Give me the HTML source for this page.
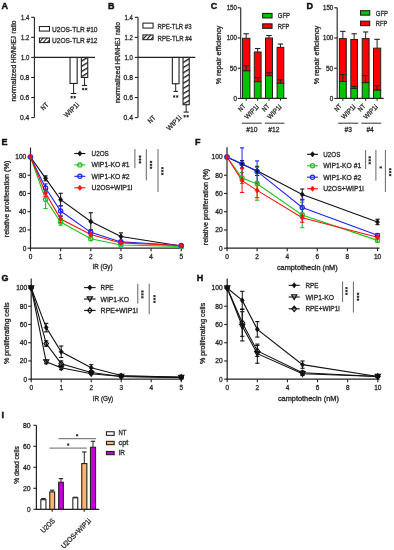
<!DOCTYPE html>
<html><head><meta charset="utf-8"><style>
html,body{margin:0;padding:0;background:#fff;width:394px;height:550px;overflow:hidden}
svg{display:block;font-family:"Liberation Sans", sans-serif;filter:blur(0.3px)}
</style></head><body>
<svg width="394" height="550" viewBox="0 0 394 550">
<rect width="394" height="550" fill="#fff"/>
<defs><pattern id="hatch" patternUnits="userSpaceOnUse" width="10" height="4.46" patternTransform="rotate(-31)"><rect width="10" height="4.46" fill="#fff"/><rect y="0" width="10" height="1.35" fill="#1a1a1a"/></pattern><pattern id="hatchL" patternUnits="userSpaceOnUse" width="10" height="3.0" patternTransform="rotate(-48)"><rect width="10" height="3.0" fill="#fff"/><rect y="0" width="10" height="1.05" fill="#1a1a1a"/></pattern></defs>
<text x="1.40" y="8.70" font-size="9.0" text-anchor="start" font-weight="bold" fill="#111" stroke="#111" stroke-width="0.45">A</text>
<line x1="34.40" y1="17.30" x2="34.40" y2="117.60" stroke="#222" stroke-width="1.1"/>
<line x1="31.20" y1="17.30" x2="34.40" y2="17.30" stroke="#222" stroke-width="1.1"/>
<text x="29.30" y="19.80" font-size="7.0" text-anchor="end" font-weight="normal" fill="#2a2a2a" stroke="#2a2a2a" stroke-width="0.3" textLength="8.3" lengthAdjust="spacingAndGlyphs">1.4</text>
<line x1="31.20" y1="37.36" x2="34.40" y2="37.36" stroke="#222" stroke-width="1.1"/>
<text x="29.30" y="39.86" font-size="7.0" text-anchor="end" font-weight="normal" fill="#2a2a2a" stroke="#2a2a2a" stroke-width="0.3" textLength="8.3" lengthAdjust="spacingAndGlyphs">1.2</text>
<line x1="31.20" y1="57.42" x2="34.40" y2="57.42" stroke="#222" stroke-width="1.1"/>
<text x="29.30" y="59.92" font-size="7.0" text-anchor="end" font-weight="normal" fill="#2a2a2a" stroke="#2a2a2a" stroke-width="0.3" textLength="8.3" lengthAdjust="spacingAndGlyphs">1.0</text>
<line x1="31.20" y1="77.48" x2="34.40" y2="77.48" stroke="#222" stroke-width="1.1"/>
<text x="29.30" y="79.98" font-size="7.0" text-anchor="end" font-weight="normal" fill="#2a2a2a" stroke="#2a2a2a" stroke-width="0.3" textLength="9.4" lengthAdjust="spacingAndGlyphs">0.8</text>
<line x1="31.20" y1="97.54" x2="34.40" y2="97.54" stroke="#222" stroke-width="1.1"/>
<text x="29.30" y="100.04" font-size="7.0" text-anchor="end" font-weight="normal" fill="#2a2a2a" stroke="#2a2a2a" stroke-width="0.3" textLength="9.4" lengthAdjust="spacingAndGlyphs">0.6</text>
<line x1="31.20" y1="117.60" x2="34.40" y2="117.60" stroke="#222" stroke-width="1.1"/>
<text x="29.30" y="120.10" font-size="7.0" text-anchor="end" font-weight="normal" fill="#2a2a2a" stroke="#2a2a2a" stroke-width="0.3" textLength="9.4" lengthAdjust="spacingAndGlyphs">0.4</text>
<text x="16.10" y="101.60" font-size="6.6" text-anchor="start" font-weight="normal" fill="#2a2a2a" stroke="#2a2a2a" stroke-width="0.3" textLength="37.0" lengthAdjust="spacingAndGlyphs" transform="rotate(-90 16.10 101.60)">normalized</text>
<text x="16.10" y="62.90" font-size="6.6" text-anchor="start" font-weight="normal" fill="#2a2a2a" stroke="#2a2a2a" stroke-width="0.3" textLength="26.8" lengthAdjust="spacingAndGlyphs" transform="rotate(-90 16.10 62.90)">HR/NHEJ</text>
<text x="16.10" y="33.40" font-size="6.6" text-anchor="start" font-weight="normal" fill="#2a2a2a" stroke="#2a2a2a" stroke-width="0.3" textLength="12.9" lengthAdjust="spacingAndGlyphs" transform="rotate(-90 16.10 33.40)">ratio</text>
<line x1="34.40" y1="57.42" x2="95.00" y2="57.42" stroke="#222" stroke-width="1.1"/>
<rect x="70.05" y="57.47" width="7.10" height="25.98" fill="#fff" stroke="#222" stroke-width="1.1"/>
<line x1="73.60" y1="83.50" x2="73.60" y2="93.53" stroke="#222" stroke-width="1.0"/>
<line x1="70.90" y1="93.53" x2="76.30" y2="93.53" stroke="#222" stroke-width="1.1"/>
<rect x="81.35" y="57.47" width="6.40" height="19.96" fill="url(#hatch)" stroke="#222" stroke-width="1.1"/>
<line x1="84.55" y1="77.48" x2="84.55" y2="85.50" stroke="#222" stroke-width="1.0"/>
<line x1="81.95" y1="85.50" x2="87.15" y2="85.50" stroke="#222" stroke-width="1.1"/>
<path d="M71.60 95.95 L71.60 98.45 M72.68 96.58 L70.52 97.83 M72.68 97.83 L70.52 96.58 " stroke="#2a2a2a" stroke-width="1.0" fill="none"/>
<path d="M74.60 95.95 L74.60 98.45 M75.68 96.58 L73.52 97.83 M75.68 97.83 L73.52 96.58 " stroke="#2a2a2a" stroke-width="1.0" fill="none"/>
<path d="M83.20 87.85 L83.20 90.35 M84.28 88.47 L82.12 89.72 M84.28 89.72 L82.12 88.47 " stroke="#2a2a2a" stroke-width="1.0" fill="none"/>
<path d="M86.20 87.85 L86.20 90.35 M87.28 88.47 L85.12 89.72 M87.28 89.72 L85.12 88.47 " stroke="#2a2a2a" stroke-width="1.0" fill="none"/>
<rect x="39.42" y="26.52" width="10.05" height="4.55" fill="#fff" stroke="#222" stroke-width="1.05"/>
<text x="52.00" y="31.90" font-size="7.5" text-anchor="start" font-weight="normal" fill="#2a2a2a" stroke="#2a2a2a" stroke-width="0.3" textLength="45.5" lengthAdjust="spacingAndGlyphs">U2OS-TLR #10</text>
<rect x="39.42" y="38.02" width="10.05" height="4.55" fill="url(#hatchL)" stroke="#222" stroke-width="1.05"/>
<text x="52.00" y="43.40" font-size="7.5" text-anchor="start" font-weight="normal" fill="#2a2a2a" stroke="#2a2a2a" stroke-width="0.3" textLength="45.5" lengthAdjust="spacingAndGlyphs">U2OS-TLR #12</text>
<text x="49.00" y="105.30" font-size="7.0" text-anchor="end" font-weight="normal" fill="#2a2a2a" stroke="#2a2a2a" stroke-width="0.3" textLength="7.6" lengthAdjust="spacingAndGlyphs" transform="rotate(-45 49.00 105.30)">NT</text>
<text x="79.60" y="105.30" font-size="7.0" text-anchor="end" font-weight="normal" fill="#2a2a2a" stroke="#2a2a2a" stroke-width="0.3" textLength="18.0" lengthAdjust="spacingAndGlyphs" transform="rotate(-45 79.60 105.30)">WIP1i</text>
<text x="108.00" y="8.70" font-size="9.0" text-anchor="start" font-weight="bold" fill="#111" stroke="#111" stroke-width="0.45">B</text>
<line x1="138.00" y1="17.30" x2="138.00" y2="117.60" stroke="#222" stroke-width="1.1"/>
<line x1="134.80" y1="17.30" x2="138.00" y2="17.30" stroke="#222" stroke-width="1.1"/>
<text x="132.90" y="19.80" font-size="7.0" text-anchor="end" font-weight="normal" fill="#2a2a2a" stroke="#2a2a2a" stroke-width="0.3" textLength="8.3" lengthAdjust="spacingAndGlyphs">1.4</text>
<line x1="134.80" y1="37.36" x2="138.00" y2="37.36" stroke="#222" stroke-width="1.1"/>
<text x="132.90" y="39.86" font-size="7.0" text-anchor="end" font-weight="normal" fill="#2a2a2a" stroke="#2a2a2a" stroke-width="0.3" textLength="8.3" lengthAdjust="spacingAndGlyphs">1.2</text>
<line x1="134.80" y1="57.42" x2="138.00" y2="57.42" stroke="#222" stroke-width="1.1"/>
<text x="132.90" y="59.92" font-size="7.0" text-anchor="end" font-weight="normal" fill="#2a2a2a" stroke="#2a2a2a" stroke-width="0.3" textLength="8.3" lengthAdjust="spacingAndGlyphs">1.0</text>
<line x1="134.80" y1="77.48" x2="138.00" y2="77.48" stroke="#222" stroke-width="1.1"/>
<text x="132.90" y="79.98" font-size="7.0" text-anchor="end" font-weight="normal" fill="#2a2a2a" stroke="#2a2a2a" stroke-width="0.3" textLength="9.4" lengthAdjust="spacingAndGlyphs">0.8</text>
<line x1="134.80" y1="97.54" x2="138.00" y2="97.54" stroke="#222" stroke-width="1.1"/>
<text x="132.90" y="100.04" font-size="7.0" text-anchor="end" font-weight="normal" fill="#2a2a2a" stroke="#2a2a2a" stroke-width="0.3" textLength="9.4" lengthAdjust="spacingAndGlyphs">0.6</text>
<line x1="134.80" y1="117.60" x2="138.00" y2="117.60" stroke="#222" stroke-width="1.1"/>
<text x="132.90" y="120.10" font-size="7.0" text-anchor="end" font-weight="normal" fill="#2a2a2a" stroke="#2a2a2a" stroke-width="0.3" textLength="9.4" lengthAdjust="spacingAndGlyphs">0.4</text>
<text x="119.70" y="103.10" font-size="6.6" text-anchor="start" font-weight="normal" fill="#2a2a2a" stroke="#2a2a2a" stroke-width="0.3" textLength="37.0" lengthAdjust="spacingAndGlyphs" transform="rotate(-90 119.70 103.10)">normalized</text>
<text x="119.70" y="64.40" font-size="6.6" text-anchor="start" font-weight="normal" fill="#2a2a2a" stroke="#2a2a2a" stroke-width="0.3" textLength="26.8" lengthAdjust="spacingAndGlyphs" transform="rotate(-90 119.70 64.40)">HR/NHEJ</text>
<text x="119.70" y="34.90" font-size="6.6" text-anchor="start" font-weight="normal" fill="#2a2a2a" stroke="#2a2a2a" stroke-width="0.3" textLength="12.9" lengthAdjust="spacingAndGlyphs" transform="rotate(-90 119.70 34.90)">ratio</text>
<line x1="138.00" y1="57.42" x2="195.20" y2="57.42" stroke="#222" stroke-width="1.1"/>
<rect x="172.35" y="57.47" width="6.70" height="26.28" fill="#fff" stroke="#222" stroke-width="1.1"/>
<line x1="175.70" y1="83.80" x2="175.70" y2="91.42" stroke="#222" stroke-width="1.0"/>
<line x1="173.50" y1="91.42" x2="177.90" y2="91.42" stroke="#222" stroke-width="1.1"/>
<rect x="183.05" y="57.47" width="6.20" height="47.24" fill="url(#hatch)" stroke="#222" stroke-width="1.1"/>
<line x1="186.15" y1="104.76" x2="186.15" y2="112.08" stroke="#222" stroke-width="1.0"/>
<line x1="183.55" y1="112.08" x2="188.75" y2="112.08" stroke="#222" stroke-width="1.1"/>
<path d="M174.20 95.25 L174.20 97.75 M175.28 95.88 L173.12 97.12 M175.28 97.12 L173.12 95.88 " stroke="#2a2a2a" stroke-width="1.0" fill="none"/>
<path d="M177.20 95.25 L177.20 97.75 M178.28 95.88 L176.12 97.12 M178.28 97.12 L176.12 95.88 " stroke="#2a2a2a" stroke-width="1.0" fill="none"/>
<path d="M184.60 114.95 L184.60 117.45 M185.68 115.58 L183.52 116.83 M185.68 116.83 L183.52 115.58 " stroke="#2a2a2a" stroke-width="1.0" fill="none"/>
<path d="M187.60 114.95 L187.60 117.45 M188.68 115.58 L186.52 116.83 M188.68 116.83 L186.52 115.58 " stroke="#2a2a2a" stroke-width="1.0" fill="none"/>
<rect x="142.93" y="23.12" width="10.15" height="4.95" fill="#fff" stroke="#222" stroke-width="1.05"/>
<text x="157.50" y="28.90" font-size="7.5" text-anchor="start" font-weight="normal" fill="#2a2a2a" stroke="#2a2a2a" stroke-width="0.3" textLength="34.0" lengthAdjust="spacingAndGlyphs">RPE-TLR #3</text>
<rect x="142.93" y="34.92" width="10.15" height="4.75" fill="url(#hatchL)" stroke="#222" stroke-width="1.05"/>
<text x="157.50" y="40.50" font-size="7.5" text-anchor="start" font-weight="normal" fill="#2a2a2a" stroke="#2a2a2a" stroke-width="0.3" textLength="34.5" lengthAdjust="spacingAndGlyphs">RPE-TLR #4</text>
<text x="156.00" y="118.30" font-size="7.0" text-anchor="end" font-weight="normal" fill="#2a2a2a" stroke="#2a2a2a" stroke-width="0.3" textLength="7.6" lengthAdjust="spacingAndGlyphs" transform="rotate(-45 156.00 118.30)">NT</text>
<text x="182.00" y="118.30" font-size="7.0" text-anchor="end" font-weight="normal" fill="#2a2a2a" stroke="#2a2a2a" stroke-width="0.3" textLength="18.0" lengthAdjust="spacingAndGlyphs" transform="rotate(-45 182.00 118.30)">WIP1i</text>
<text x="210.80" y="8.80" font-size="9.0" text-anchor="start" font-weight="bold" fill="#111" stroke="#111" stroke-width="0.45">C</text>
<line x1="240.70" y1="7.80" x2="240.70" y2="98.40" stroke="#333" stroke-width="1.2"/>
<line x1="240.70" y1="98.40" x2="286.80" y2="98.40" stroke="#222" stroke-width="1.2"/>
<line x1="237.70" y1="7.80" x2="240.70" y2="7.80" stroke="#222" stroke-width="1.1"/>
<text x="236.90" y="10.10" font-size="6.5" text-anchor="end" font-weight="normal" fill="#2a2a2a" stroke="#2a2a2a" stroke-width="0.3" textLength="10.2" lengthAdjust="spacingAndGlyphs">150</text>
<line x1="237.70" y1="38.00" x2="240.70" y2="38.00" stroke="#222" stroke-width="1.1"/>
<text x="236.90" y="40.30" font-size="6.5" text-anchor="end" font-weight="normal" fill="#2a2a2a" stroke="#2a2a2a" stroke-width="0.3" textLength="10.2" lengthAdjust="spacingAndGlyphs">100</text>
<line x1="237.70" y1="68.20" x2="240.70" y2="68.20" stroke="#222" stroke-width="1.1"/>
<text x="236.90" y="70.50" font-size="6.5" text-anchor="end" font-weight="normal" fill="#2a2a2a" stroke="#2a2a2a" stroke-width="0.3" textLength="7.2" lengthAdjust="spacingAndGlyphs">50</text>
<line x1="237.70" y1="98.40" x2="240.70" y2="98.40" stroke="#222" stroke-width="1.1"/>
<text x="236.90" y="100.70" font-size="6.5" text-anchor="end" font-weight="normal" fill="#2a2a2a" stroke="#2a2a2a" stroke-width="0.3" textLength="3.5" lengthAdjust="spacingAndGlyphs">0</text>
<text x="221.50" y="54.90" font-size="6.6" text-anchor="middle" font-weight="normal" fill="#2a2a2a" stroke="#2a2a2a" stroke-width="0.3" textLength="58.5" lengthAdjust="spacingAndGlyphs" transform="rotate(-90 221.50 54.90)">% repair efficiency</text>
<rect x="242.50" y="38.30" width="7.40" height="32.62" fill="#ff0000" stroke="#222" stroke-width="1.0"/>
<rect x="242.50" y="70.92" width="7.40" height="27.48" fill="#00c400" stroke="#222" stroke-width="1.0"/>
<line x1="246.20" y1="38.30" x2="246.20" y2="33.77" stroke="#222" stroke-width="1.0"/>
<line x1="243.50" y1="33.77" x2="248.90" y2="33.77" stroke="#222" stroke-width="1.1"/>
<line x1="246.20" y1="70.92" x2="246.20" y2="65.78" stroke="#222" stroke-width="1.0"/>
<line x1="243.50" y1="65.78" x2="248.90" y2="65.78" stroke="#222" stroke-width="1.1"/>
<line x1="246.20" y1="98.40" x2="246.20" y2="100.80" stroke="#222" stroke-width="1.0"/>
<rect x="254.30" y="52.01" width="6.80" height="29.72" fill="#ff0000" stroke="#222" stroke-width="1.0"/>
<rect x="254.30" y="81.73" width="6.80" height="16.67" fill="#00c400" stroke="#222" stroke-width="1.0"/>
<line x1="257.70" y1="52.01" x2="257.70" y2="48.51" stroke="#222" stroke-width="1.0"/>
<line x1="255.00" y1="48.51" x2="260.40" y2="48.51" stroke="#222" stroke-width="1.1"/>
<line x1="257.70" y1="81.73" x2="257.70" y2="77.50" stroke="#222" stroke-width="1.0"/>
<line x1="255.00" y1="77.50" x2="260.40" y2="77.50" stroke="#222" stroke-width="1.1"/>
<line x1="257.70" y1="98.40" x2="257.70" y2="100.80" stroke="#222" stroke-width="1.0"/>
<rect x="265.50" y="38.00" width="7.00" height="37.75" fill="#ff0000" stroke="#222" stroke-width="1.0"/>
<rect x="265.50" y="75.75" width="7.00" height="22.65" fill="#00c400" stroke="#222" stroke-width="1.0"/>
<line x1="269.00" y1="38.00" x2="269.00" y2="35.58" stroke="#222" stroke-width="1.0"/>
<line x1="266.30" y1="35.58" x2="271.70" y2="35.58" stroke="#222" stroke-width="1.1"/>
<line x1="269.00" y1="75.75" x2="269.00" y2="72.73" stroke="#222" stroke-width="1.0"/>
<line x1="266.30" y1="72.73" x2="271.70" y2="72.73" stroke="#222" stroke-width="1.1"/>
<line x1="269.00" y1="98.40" x2="269.00" y2="100.80" stroke="#222" stroke-width="1.0"/>
<rect x="277.10" y="47.36" width="6.70" height="35.88" fill="#ff0000" stroke="#222" stroke-width="1.0"/>
<rect x="277.10" y="83.24" width="6.70" height="15.16" fill="#00c400" stroke="#222" stroke-width="1.0"/>
<line x1="280.45" y1="47.36" x2="280.45" y2="44.04" stroke="#222" stroke-width="1.0"/>
<line x1="277.75" y1="44.04" x2="283.15" y2="44.04" stroke="#222" stroke-width="1.1"/>
<line x1="280.45" y1="83.24" x2="280.45" y2="79.80" stroke="#222" stroke-width="1.0"/>
<line x1="277.75" y1="79.80" x2="283.15" y2="79.80" stroke="#222" stroke-width="1.1"/>
<line x1="280.45" y1="98.40" x2="280.45" y2="100.80" stroke="#222" stroke-width="1.0"/>
<rect x="262.65" y="13.45" width="9.40" height="4.50" fill="#00c400" stroke="#222" stroke-width="1.1"/>
<text x="277.80" y="18.40" font-size="7.2" text-anchor="start" font-weight="normal" fill="#2a2a2a" stroke="#2a2a2a" stroke-width="0.3" textLength="12.2" lengthAdjust="spacingAndGlyphs">GFP</text>
<rect x="262.65" y="23.85" width="9.40" height="4.50" fill="#ff0000" stroke="#222" stroke-width="1.1"/>
<text x="277.80" y="28.80" font-size="7.2" text-anchor="start" font-weight="normal" fill="#2a2a2a" stroke="#2a2a2a" stroke-width="0.3" textLength="11.6" lengthAdjust="spacingAndGlyphs">RFP</text>
<text x="245.90" y="106.70" font-size="6.8" text-anchor="end" font-weight="normal" fill="#2a2a2a" stroke="#2a2a2a" stroke-width="0.3" textLength="7.4" lengthAdjust="spacingAndGlyphs" transform="rotate(-45 245.90 106.70)">NT</text>
<text x="259.20" y="107.50" font-size="6.8" text-anchor="end" font-weight="normal" fill="#2a2a2a" stroke="#2a2a2a" stroke-width="0.3" textLength="17.0" lengthAdjust="spacingAndGlyphs" transform="rotate(-45 259.20 107.50)">WIP1i</text>
<text x="269.80" y="106.70" font-size="6.8" text-anchor="end" font-weight="normal" fill="#2a2a2a" stroke="#2a2a2a" stroke-width="0.3" textLength="7.4" lengthAdjust="spacingAndGlyphs" transform="rotate(-45 269.80 106.70)">NT</text>
<text x="282.00" y="107.50" font-size="6.8" text-anchor="end" font-weight="normal" fill="#2a2a2a" stroke="#2a2a2a" stroke-width="0.3" textLength="17.0" lengthAdjust="spacingAndGlyphs" transform="rotate(-45 282.00 107.50)">WIP1i</text>
<line x1="241.70" y1="123.20" x2="261.70" y2="123.20" stroke="#333" stroke-width="1.0"/>
<text x="251.90" y="131.60" font-size="6.8" text-anchor="middle" font-weight="normal" fill="#2a2a2a" stroke="#2a2a2a" stroke-width="0.3" textLength="11.2" lengthAdjust="spacingAndGlyphs">#10</text>
<line x1="264.90" y1="123.20" x2="284.40" y2="123.20" stroke="#333" stroke-width="1.0"/>
<text x="273.90" y="131.60" font-size="6.8" text-anchor="middle" font-weight="normal" fill="#2a2a2a" stroke="#2a2a2a" stroke-width="0.3" textLength="11.2" lengthAdjust="spacingAndGlyphs">#12</text>
<text x="306.60" y="8.80" font-size="9.0" text-anchor="start" font-weight="bold" fill="#111" stroke="#111" stroke-width="0.45">D</text>
<line x1="337.20" y1="7.80" x2="337.20" y2="98.40" stroke="#333" stroke-width="1.2"/>
<line x1="337.20" y1="98.40" x2="383.70" y2="98.40" stroke="#222" stroke-width="1.2"/>
<line x1="334.20" y1="7.80" x2="337.20" y2="7.80" stroke="#222" stroke-width="1.1"/>
<text x="333.20" y="10.10" font-size="6.5" text-anchor="end" font-weight="normal" fill="#2a2a2a" stroke="#2a2a2a" stroke-width="0.3" textLength="10.2" lengthAdjust="spacingAndGlyphs">150</text>
<line x1="334.20" y1="38.00" x2="337.20" y2="38.00" stroke="#222" stroke-width="1.1"/>
<text x="333.20" y="40.30" font-size="6.5" text-anchor="end" font-weight="normal" fill="#2a2a2a" stroke="#2a2a2a" stroke-width="0.3" textLength="10.2" lengthAdjust="spacingAndGlyphs">100</text>
<line x1="334.20" y1="68.20" x2="337.20" y2="68.20" stroke="#222" stroke-width="1.1"/>
<text x="333.20" y="70.50" font-size="6.5" text-anchor="end" font-weight="normal" fill="#2a2a2a" stroke="#2a2a2a" stroke-width="0.3" textLength="7.2" lengthAdjust="spacingAndGlyphs">50</text>
<line x1="334.20" y1="98.40" x2="337.20" y2="98.40" stroke="#222" stroke-width="1.1"/>
<text x="333.20" y="100.70" font-size="6.5" text-anchor="end" font-weight="normal" fill="#2a2a2a" stroke="#2a2a2a" stroke-width="0.3" textLength="3.5" lengthAdjust="spacingAndGlyphs">0</text>
<text x="318.60" y="54.90" font-size="6.6" text-anchor="middle" font-weight="normal" fill="#2a2a2a" stroke="#2a2a2a" stroke-width="0.3" textLength="58.5" lengthAdjust="spacingAndGlyphs" transform="rotate(-90 318.60 54.90)">% repair efficiency</text>
<rect x="339.40" y="38.60" width="6.90" height="42.94" fill="#ff0000" stroke="#222" stroke-width="1.0"/>
<rect x="339.40" y="81.55" width="6.90" height="16.85" fill="#00c400" stroke="#222" stroke-width="1.0"/>
<line x1="342.85" y1="38.60" x2="342.85" y2="31.36" stroke="#222" stroke-width="1.0"/>
<line x1="340.15" y1="31.36" x2="345.55" y2="31.36" stroke="#222" stroke-width="1.1"/>
<line x1="342.85" y1="81.55" x2="342.85" y2="74.54" stroke="#222" stroke-width="1.0"/>
<line x1="340.15" y1="74.54" x2="345.55" y2="74.54" stroke="#222" stroke-width="1.1"/>
<line x1="342.85" y1="98.40" x2="342.85" y2="100.80" stroke="#222" stroke-width="1.0"/>
<rect x="350.80" y="39.51" width="6.70" height="49.04" fill="#ff0000" stroke="#222" stroke-width="1.0"/>
<rect x="350.80" y="88.55" width="6.70" height="9.85" fill="#00c400" stroke="#222" stroke-width="1.0"/>
<line x1="354.15" y1="39.51" x2="354.15" y2="33.77" stroke="#222" stroke-width="1.0"/>
<line x1="351.45" y1="33.77" x2="356.85" y2="33.77" stroke="#222" stroke-width="1.1"/>
<line x1="354.15" y1="88.55" x2="354.15" y2="86.44" stroke="#222" stroke-width="1.0"/>
<line x1="351.45" y1="86.44" x2="356.85" y2="86.44" stroke="#222" stroke-width="1.1"/>
<line x1="354.15" y1="98.40" x2="354.15" y2="100.80" stroke="#222" stroke-width="1.0"/>
<rect x="362.20" y="38.60" width="6.90" height="44.15" fill="#ff0000" stroke="#222" stroke-width="1.0"/>
<rect x="362.20" y="82.76" width="6.90" height="15.64" fill="#00c400" stroke="#222" stroke-width="1.0"/>
<line x1="365.65" y1="38.60" x2="365.65" y2="31.96" stroke="#222" stroke-width="1.0"/>
<line x1="362.95" y1="31.96" x2="368.35" y2="31.96" stroke="#222" stroke-width="1.1"/>
<line x1="365.65" y1="82.76" x2="365.65" y2="75.57" stroke="#222" stroke-width="1.0"/>
<line x1="362.95" y1="75.57" x2="368.35" y2="75.57" stroke="#222" stroke-width="1.1"/>
<line x1="365.65" y1="98.40" x2="365.65" y2="100.80" stroke="#222" stroke-width="1.0"/>
<rect x="373.50" y="48.15" width="7.20" height="42.04" fill="#ff0000" stroke="#222" stroke-width="1.0"/>
<rect x="373.50" y="90.19" width="7.20" height="8.21" fill="#00c400" stroke="#222" stroke-width="1.0"/>
<line x1="377.10" y1="48.15" x2="377.10" y2="39.33" stroke="#222" stroke-width="1.0"/>
<line x1="374.40" y1="39.33" x2="379.80" y2="39.33" stroke="#222" stroke-width="1.1"/>
<line x1="377.10" y1="90.19" x2="377.10" y2="85.66" stroke="#222" stroke-width="1.0"/>
<line x1="374.40" y1="85.66" x2="379.80" y2="85.66" stroke="#222" stroke-width="1.1"/>
<line x1="377.10" y1="98.40" x2="377.10" y2="100.80" stroke="#222" stroke-width="1.0"/>
<rect x="360.55" y="10.65" width="9.20" height="4.50" fill="#00c400" stroke="#222" stroke-width="1.1"/>
<text x="375.80" y="15.60" font-size="7.2" text-anchor="start" font-weight="normal" fill="#2a2a2a" stroke="#2a2a2a" stroke-width="0.3" textLength="12.2" lengthAdjust="spacingAndGlyphs">GFP</text>
<rect x="360.55" y="21.15" width="9.20" height="4.50" fill="#ff0000" stroke="#222" stroke-width="1.1"/>
<text x="375.80" y="26.10" font-size="7.2" text-anchor="start" font-weight="normal" fill="#2a2a2a" stroke="#2a2a2a" stroke-width="0.3" textLength="11.6" lengthAdjust="spacingAndGlyphs">RFP</text>
<text x="342.20" y="106.70" font-size="6.8" text-anchor="end" font-weight="normal" fill="#2a2a2a" stroke="#2a2a2a" stroke-width="0.3" textLength="7.4" lengthAdjust="spacingAndGlyphs" transform="rotate(-45 342.20 106.70)">NT</text>
<text x="356.00" y="107.50" font-size="6.8" text-anchor="end" font-weight="normal" fill="#2a2a2a" stroke="#2a2a2a" stroke-width="0.3" textLength="17.0" lengthAdjust="spacingAndGlyphs" transform="rotate(-45 356.00 107.50)">WIP1i</text>
<text x="365.80" y="106.70" font-size="6.8" text-anchor="end" font-weight="normal" fill="#2a2a2a" stroke="#2a2a2a" stroke-width="0.3" textLength="7.4" lengthAdjust="spacingAndGlyphs" transform="rotate(-45 365.80 106.70)">NT</text>
<text x="378.30" y="107.50" font-size="6.8" text-anchor="end" font-weight="normal" fill="#2a2a2a" stroke="#2a2a2a" stroke-width="0.3" textLength="17.0" lengthAdjust="spacingAndGlyphs" transform="rotate(-45 378.30 107.50)">WIP1i</text>
<line x1="338.20" y1="123.20" x2="358.20" y2="123.20" stroke="#333" stroke-width="1.0"/>
<text x="348.30" y="131.60" font-size="6.8" text-anchor="middle" font-weight="normal" fill="#2a2a2a" stroke="#2a2a2a" stroke-width="0.3" textLength="7.4" lengthAdjust="spacingAndGlyphs">#3</text>
<line x1="361.40" y1="123.20" x2="381.20" y2="123.20" stroke="#333" stroke-width="1.0"/>
<text x="370.10" y="131.60" font-size="6.8" text-anchor="middle" font-weight="normal" fill="#2a2a2a" stroke="#2a2a2a" stroke-width="0.3" textLength="7.4" lengthAdjust="spacingAndGlyphs">#4</text>
<text x="1.50" y="144.50" font-size="9.0" text-anchor="start" font-weight="bold" fill="#111" stroke="#111" stroke-width="0.45">E</text>
<line x1="30.50" y1="147.50" x2="30.50" y2="248.80" stroke="#222" stroke-width="1.2"/>
<line x1="29.90" y1="248.20" x2="183.50" y2="248.20" stroke="#222" stroke-width="1.2"/>
<line x1="27.50" y1="248.20" x2="30.50" y2="248.20" stroke="#222" stroke-width="1.1"/>
<text x="26.30" y="250.50" font-size="6.5" text-anchor="end" font-weight="normal" fill="#2a2a2a" stroke="#2a2a2a" stroke-width="0.3" textLength="3.6" lengthAdjust="spacingAndGlyphs">0</text>
<line x1="27.50" y1="229.96" x2="30.50" y2="229.96" stroke="#222" stroke-width="1.1"/>
<text x="26.30" y="232.26" font-size="6.5" text-anchor="end" font-weight="normal" fill="#2a2a2a" stroke="#2a2a2a" stroke-width="0.3" textLength="7.4" lengthAdjust="spacingAndGlyphs">20</text>
<line x1="27.50" y1="211.72" x2="30.50" y2="211.72" stroke="#222" stroke-width="1.1"/>
<text x="26.30" y="214.02" font-size="6.5" text-anchor="end" font-weight="normal" fill="#2a2a2a" stroke="#2a2a2a" stroke-width="0.3" textLength="7.4" lengthAdjust="spacingAndGlyphs">40</text>
<line x1="27.50" y1="193.48" x2="30.50" y2="193.48" stroke="#222" stroke-width="1.1"/>
<text x="26.30" y="195.78" font-size="6.5" text-anchor="end" font-weight="normal" fill="#2a2a2a" stroke="#2a2a2a" stroke-width="0.3" textLength="7.4" lengthAdjust="spacingAndGlyphs">60</text>
<line x1="27.50" y1="175.24" x2="30.50" y2="175.24" stroke="#222" stroke-width="1.1"/>
<text x="26.30" y="177.54" font-size="6.5" text-anchor="end" font-weight="normal" fill="#2a2a2a" stroke="#2a2a2a" stroke-width="0.3" textLength="7.4" lengthAdjust="spacingAndGlyphs">80</text>
<line x1="27.50" y1="157.00" x2="30.50" y2="157.00" stroke="#222" stroke-width="1.1"/>
<text x="26.30" y="159.30" font-size="6.5" text-anchor="end" font-weight="normal" fill="#2a2a2a" stroke="#2a2a2a" stroke-width="0.3" textLength="11.0" lengthAdjust="spacingAndGlyphs">100</text>
<line x1="30.50" y1="248.20" x2="30.50" y2="251.20" stroke="#222" stroke-width="1.1"/>
<text x="30.50" y="258.70" font-size="6.5" text-anchor="middle" font-weight="normal" fill="#2a2a2a" stroke="#2a2a2a" stroke-width="0.3" textLength="3.6" lengthAdjust="spacingAndGlyphs">0</text>
<line x1="60.64" y1="248.20" x2="60.64" y2="251.20" stroke="#222" stroke-width="1.1"/>
<text x="60.64" y="258.70" font-size="6.5" text-anchor="middle" font-weight="normal" fill="#2a2a2a" stroke="#2a2a2a" stroke-width="0.3" textLength="3.6" lengthAdjust="spacingAndGlyphs">1</text>
<line x1="90.78" y1="248.20" x2="90.78" y2="251.20" stroke="#222" stroke-width="1.1"/>
<text x="90.78" y="258.70" font-size="6.5" text-anchor="middle" font-weight="normal" fill="#2a2a2a" stroke="#2a2a2a" stroke-width="0.3" textLength="3.6" lengthAdjust="spacingAndGlyphs">2</text>
<line x1="120.92" y1="248.20" x2="120.92" y2="251.20" stroke="#222" stroke-width="1.1"/>
<text x="120.92" y="258.70" font-size="6.5" text-anchor="middle" font-weight="normal" fill="#2a2a2a" stroke="#2a2a2a" stroke-width="0.3" textLength="3.6" lengthAdjust="spacingAndGlyphs">3</text>
<line x1="151.06" y1="248.20" x2="151.06" y2="251.20" stroke="#222" stroke-width="1.1"/>
<text x="151.06" y="258.70" font-size="6.5" text-anchor="middle" font-weight="normal" fill="#2a2a2a" stroke="#2a2a2a" stroke-width="0.3" textLength="3.6" lengthAdjust="spacingAndGlyphs">4</text>
<line x1="181.20" y1="248.20" x2="181.20" y2="251.20" stroke="#222" stroke-width="1.1"/>
<text x="181.20" y="258.70" font-size="6.5" text-anchor="middle" font-weight="normal" fill="#2a2a2a" stroke="#2a2a2a" stroke-width="0.3" textLength="3.6" lengthAdjust="spacingAndGlyphs">5</text>
<text x="9.20" y="198.90" font-size="6.6" text-anchor="middle" font-weight="normal" fill="#2a2a2a" stroke="#2a2a2a" stroke-width="0.3" textLength="76.5" lengthAdjust="spacingAndGlyphs" transform="rotate(-90 9.20 198.90)">relative proliferation (%)</text>
<text x="102.50" y="268.80" font-size="6.6" text-anchor="middle" font-weight="normal" fill="#2a2a2a" stroke="#2a2a2a" stroke-width="0.3" textLength="20.0" lengthAdjust="spacingAndGlyphs">IR (Gy)</text>
<path d="M30.50 157.00 L45.57 178.34 L60.64 199.68 L90.78 221.57 L120.92 236.53 L181.20 245.92" fill="none" stroke="#111" stroke-width="1.1"/>
<path d="M30.50 157.00 L45.57 199.41 L60.64 222.03 L90.78 238.81 L120.92 245.01 L181.20 246.38" fill="none" stroke="#1ec31e" stroke-width="1.1"/>
<path d="M30.50 157.00 L45.57 188.01 L60.64 210.99 L90.78 232.33 L120.92 241.91 L181.20 245.46" fill="none" stroke="#2020ff" stroke-width="1.1"/>
<path d="M30.50 157.00 L45.57 192.93 L60.64 219.02 L90.78 234.43 L120.92 242.91 L181.20 245.46" fill="none" stroke="#ff1010" stroke-width="1.1"/>
<line x1="45.57" y1="180.80" x2="45.57" y2="175.88" stroke="#111" stroke-width="1.0"/>
<line x1="43.47" y1="175.88" x2="47.67" y2="175.88" stroke="#111" stroke-width="1.1"/>
<line x1="43.47" y1="180.80" x2="47.67" y2="180.80" stroke="#111" stroke-width="1.1"/>
<line x1="60.64" y1="206.07" x2="60.64" y2="193.30" stroke="#111" stroke-width="1.0"/>
<line x1="58.54" y1="193.30" x2="62.74" y2="193.30" stroke="#111" stroke-width="1.1"/>
<line x1="58.54" y1="206.07" x2="62.74" y2="206.07" stroke="#111" stroke-width="1.1"/>
<line x1="90.78" y1="230.42" x2="90.78" y2="212.72" stroke="#111" stroke-width="1.0"/>
<line x1="88.68" y1="212.72" x2="92.88" y2="212.72" stroke="#111" stroke-width="1.1"/>
<line x1="88.68" y1="230.42" x2="92.88" y2="230.42" stroke="#111" stroke-width="1.1"/>
<line x1="120.92" y1="240.17" x2="120.92" y2="232.88" stroke="#111" stroke-width="1.0"/>
<line x1="118.82" y1="232.88" x2="123.02" y2="232.88" stroke="#111" stroke-width="1.1"/>
<line x1="118.82" y1="240.17" x2="123.02" y2="240.17" stroke="#111" stroke-width="1.1"/>
<line x1="181.20" y1="246.83" x2="181.20" y2="245.01" stroke="#111" stroke-width="1.0"/>
<line x1="179.10" y1="245.01" x2="183.30" y2="245.01" stroke="#111" stroke-width="1.1"/>
<line x1="179.10" y1="246.83" x2="183.30" y2="246.83" stroke="#111" stroke-width="1.1"/>
<line x1="45.57" y1="208.53" x2="45.57" y2="190.29" stroke="#1ec31e" stroke-width="1.0"/>
<line x1="43.47" y1="190.29" x2="47.67" y2="190.29" stroke="#1ec31e" stroke-width="1.1"/>
<line x1="43.47" y1="208.53" x2="47.67" y2="208.53" stroke="#1ec31e" stroke-width="1.1"/>
<line x1="60.64" y1="225.22" x2="60.64" y2="218.83" stroke="#1ec31e" stroke-width="1.0"/>
<line x1="58.54" y1="218.83" x2="62.74" y2="218.83" stroke="#1ec31e" stroke-width="1.1"/>
<line x1="58.54" y1="225.22" x2="62.74" y2="225.22" stroke="#1ec31e" stroke-width="1.1"/>
<line x1="90.78" y1="240.63" x2="90.78" y2="236.98" stroke="#1ec31e" stroke-width="1.0"/>
<line x1="88.68" y1="236.98" x2="92.88" y2="236.98" stroke="#1ec31e" stroke-width="1.1"/>
<line x1="88.68" y1="240.63" x2="92.88" y2="240.63" stroke="#1ec31e" stroke-width="1.1"/>
<line x1="120.92" y1="245.92" x2="120.92" y2="244.10" stroke="#1ec31e" stroke-width="1.0"/>
<line x1="118.82" y1="244.10" x2="123.02" y2="244.10" stroke="#1ec31e" stroke-width="1.1"/>
<line x1="118.82" y1="245.92" x2="123.02" y2="245.92" stroke="#1ec31e" stroke-width="1.1"/>
<line x1="181.20" y1="247.29" x2="181.20" y2="245.46" stroke="#1ec31e" stroke-width="1.0"/>
<line x1="179.10" y1="245.46" x2="183.30" y2="245.46" stroke="#1ec31e" stroke-width="1.1"/>
<line x1="179.10" y1="247.29" x2="183.30" y2="247.29" stroke="#1ec31e" stroke-width="1.1"/>
<line x1="45.57" y1="192.11" x2="45.57" y2="183.90" stroke="#2020ff" stroke-width="1.0"/>
<line x1="43.47" y1="183.90" x2="47.67" y2="183.90" stroke="#2020ff" stroke-width="1.1"/>
<line x1="43.47" y1="192.11" x2="47.67" y2="192.11" stroke="#2020ff" stroke-width="1.1"/>
<line x1="60.64" y1="216.46" x2="60.64" y2="205.52" stroke="#2020ff" stroke-width="1.0"/>
<line x1="58.54" y1="205.52" x2="62.74" y2="205.52" stroke="#2020ff" stroke-width="1.1"/>
<line x1="58.54" y1="216.46" x2="62.74" y2="216.46" stroke="#2020ff" stroke-width="1.1"/>
<line x1="90.78" y1="235.07" x2="90.78" y2="229.60" stroke="#2020ff" stroke-width="1.0"/>
<line x1="88.68" y1="229.60" x2="92.88" y2="229.60" stroke="#2020ff" stroke-width="1.1"/>
<line x1="88.68" y1="235.07" x2="92.88" y2="235.07" stroke="#2020ff" stroke-width="1.1"/>
<line x1="120.92" y1="242.82" x2="120.92" y2="241.00" stroke="#2020ff" stroke-width="1.0"/>
<line x1="118.82" y1="241.00" x2="123.02" y2="241.00" stroke="#2020ff" stroke-width="1.1"/>
<line x1="118.82" y1="242.82" x2="123.02" y2="242.82" stroke="#2020ff" stroke-width="1.1"/>
<line x1="181.20" y1="246.38" x2="181.20" y2="244.55" stroke="#2020ff" stroke-width="1.0"/>
<line x1="179.10" y1="244.55" x2="183.30" y2="244.55" stroke="#2020ff" stroke-width="1.1"/>
<line x1="179.10" y1="246.38" x2="183.30" y2="246.38" stroke="#2020ff" stroke-width="1.1"/>
<line x1="45.57" y1="196.58" x2="45.57" y2="189.28" stroke="#ff1010" stroke-width="1.0"/>
<line x1="43.47" y1="189.28" x2="47.67" y2="189.28" stroke="#ff1010" stroke-width="1.1"/>
<line x1="43.47" y1="196.58" x2="47.67" y2="196.58" stroke="#ff1010" stroke-width="1.1"/>
<line x1="60.64" y1="222.66" x2="60.64" y2="215.37" stroke="#ff1010" stroke-width="1.0"/>
<line x1="58.54" y1="215.37" x2="62.74" y2="215.37" stroke="#ff1010" stroke-width="1.1"/>
<line x1="58.54" y1="222.66" x2="62.74" y2="222.66" stroke="#ff1010" stroke-width="1.1"/>
<line x1="90.78" y1="236.25" x2="90.78" y2="232.60" stroke="#ff1010" stroke-width="1.0"/>
<line x1="88.68" y1="232.60" x2="92.88" y2="232.60" stroke="#ff1010" stroke-width="1.1"/>
<line x1="88.68" y1="236.25" x2="92.88" y2="236.25" stroke="#ff1010" stroke-width="1.1"/>
<line x1="120.92" y1="243.82" x2="120.92" y2="242.00" stroke="#ff1010" stroke-width="1.0"/>
<line x1="118.82" y1="242.00" x2="123.02" y2="242.00" stroke="#ff1010" stroke-width="1.1"/>
<line x1="118.82" y1="243.82" x2="123.02" y2="243.82" stroke="#ff1010" stroke-width="1.1"/>
<line x1="181.20" y1="246.38" x2="181.20" y2="244.55" stroke="#ff1010" stroke-width="1.0"/>
<line x1="179.10" y1="244.55" x2="183.30" y2="244.55" stroke="#ff1010" stroke-width="1.1"/>
<line x1="179.10" y1="246.38" x2="183.30" y2="246.38" stroke="#ff1010" stroke-width="1.1"/>
<path d="M30.50 154.40 L32.50 157.00 L30.50 159.60 L28.50 157.00 Z" fill="#111" stroke="#111" stroke-width="0.7"/>
<path d="M45.57 175.74 L47.57 178.34 L45.57 180.94 L43.57 178.34 Z" fill="#111" stroke="#111" stroke-width="0.7"/>
<path d="M60.64 197.08 L62.64 199.68 L60.64 202.28 L58.64 199.68 Z" fill="#111" stroke="#111" stroke-width="0.7"/>
<path d="M90.78 218.97 L92.78 221.57 L90.78 224.17 L88.78 221.57 Z" fill="#111" stroke="#111" stroke-width="0.7"/>
<path d="M120.92 233.93 L122.92 236.53 L120.92 239.13 L118.92 236.53 Z" fill="#111" stroke="#111" stroke-width="0.7"/>
<path d="M181.20 243.32 L183.20 245.92 L181.20 248.52 L179.20 245.92 Z" fill="#111" stroke="#111" stroke-width="0.7"/>
<circle cx="30.50" cy="157.00" r="2.10" fill="none" stroke="#1ec31e" stroke-width="1.2"/>
<circle cx="45.57" cy="199.41" r="2.10" fill="none" stroke="#1ec31e" stroke-width="1.2"/>
<circle cx="60.64" cy="222.03" r="2.10" fill="none" stroke="#1ec31e" stroke-width="1.2"/>
<circle cx="90.78" cy="238.81" r="2.10" fill="none" stroke="#1ec31e" stroke-width="1.2"/>
<circle cx="120.92" cy="245.01" r="2.10" fill="none" stroke="#1ec31e" stroke-width="1.2"/>
<circle cx="181.20" cy="246.38" r="2.10" fill="none" stroke="#1ec31e" stroke-width="1.2"/>
<circle cx="30.50" cy="157.00" r="2.10" fill="none" stroke="#2020ff" stroke-width="1.2"/>
<circle cx="45.57" cy="188.01" r="2.10" fill="none" stroke="#2020ff" stroke-width="1.2"/>
<circle cx="60.64" cy="210.99" r="2.10" fill="none" stroke="#2020ff" stroke-width="1.2"/>
<circle cx="90.78" cy="232.33" r="2.10" fill="none" stroke="#2020ff" stroke-width="1.2"/>
<circle cx="120.92" cy="241.91" r="2.10" fill="none" stroke="#2020ff" stroke-width="1.2"/>
<circle cx="181.20" cy="245.46" r="2.10" fill="none" stroke="#2020ff" stroke-width="1.2"/>
<path d="M30.50 154.40 L32.50 157.00 L30.50 159.60 L28.50 157.00 Z" fill="#ff1010" stroke="#ff1010" stroke-width="0.7"/>
<path d="M45.57 190.33 L47.57 192.93 L45.57 195.53 L43.57 192.93 Z" fill="#ff1010" stroke="#ff1010" stroke-width="0.7"/>
<path d="M60.64 216.42 L62.64 219.02 L60.64 221.62 L58.64 219.02 Z" fill="#ff1010" stroke="#ff1010" stroke-width="0.7"/>
<path d="M90.78 231.83 L92.78 234.43 L90.78 237.03 L88.78 234.43 Z" fill="#ff1010" stroke="#ff1010" stroke-width="0.7"/>
<path d="M120.92 240.31 L122.92 242.91 L120.92 245.51 L118.92 242.91 Z" fill="#ff1010" stroke="#ff1010" stroke-width="0.7"/>
<path d="M181.20 242.86 L183.20 245.46 L181.20 248.06 L179.20 245.46 Z" fill="#ff1010" stroke="#ff1010" stroke-width="0.7"/>
<line x1="74.30" y1="153.50" x2="85.40" y2="153.50" stroke="#111" stroke-width="1.1"/>
<path d="M79.85 150.90 L81.85 153.50 L79.85 156.10 L77.85 153.50 Z" fill="#111" stroke="#111" stroke-width="0.7"/>
<text x="91.60" y="156.00" font-size="6.9" text-anchor="start" font-weight="normal" fill="#2a2a2a" stroke="#2a2a2a" stroke-width="0.3" textLength="17.2" lengthAdjust="spacingAndGlyphs">U2OS</text>
<line x1="74.30" y1="164.90" x2="85.40" y2="164.90" stroke="#1ec31e" stroke-width="1.1"/>
<circle cx="79.85" cy="164.90" r="2.10" fill="none" stroke="#1ec31e" stroke-width="1.2"/>
<text x="91.60" y="167.40" font-size="6.9" text-anchor="start" font-weight="normal" fill="#2a2a2a" stroke="#2a2a2a" stroke-width="0.3" textLength="38.0" lengthAdjust="spacingAndGlyphs">WIP1-KO #1</text>
<line x1="74.30" y1="176.30" x2="85.40" y2="176.30" stroke="#2020ff" stroke-width="1.1"/>
<circle cx="79.85" cy="176.30" r="2.10" fill="none" stroke="#2020ff" stroke-width="1.2"/>
<text x="91.60" y="178.80" font-size="6.9" text-anchor="start" font-weight="normal" fill="#2a2a2a" stroke="#2a2a2a" stroke-width="0.3" textLength="38.0" lengthAdjust="spacingAndGlyphs">WIP1-KO #2</text>
<line x1="74.30" y1="187.80" x2="85.40" y2="187.80" stroke="#ff1010" stroke-width="1.1"/>
<path d="M79.85 185.20 L81.85 187.80 L79.85 190.40 L77.85 187.80 Z" fill="#ff1010" stroke="#ff1010" stroke-width="0.7"/>
<text x="91.60" y="190.30" font-size="6.9" text-anchor="start" font-weight="normal" fill="#2a2a2a" stroke="#2a2a2a" stroke-width="0.3" textLength="40.6" lengthAdjust="spacingAndGlyphs">U2OS+WIP1i</text>
<line x1="134.90" y1="149.10" x2="134.90" y2="168.20" stroke="#555" stroke-width="0.9"/>
<path d="M138.75 156.60 L141.25 156.60 M139.38 155.52 L140.62 157.68 M140.62 155.52 L139.38 157.68 " stroke="#2a2a2a" stroke-width="1.0" fill="none"/>
<path d="M138.75 159.50 L141.25 159.50 M139.38 158.42 L140.62 160.58 M140.62 158.42 L139.38 160.58 " stroke="#2a2a2a" stroke-width="1.0" fill="none"/>
<path d="M138.75 162.40 L141.25 162.40 M139.38 161.32 L140.62 163.48 M140.62 161.32 L139.38 163.48 " stroke="#2a2a2a" stroke-width="1.0" fill="none"/>
<line x1="146.30" y1="149.10" x2="146.30" y2="180.40" stroke="#555" stroke-width="0.9"/>
<path d="M149.75 161.90 L152.25 161.90 M150.38 160.82 L151.62 162.98 M151.62 160.82 L150.38 162.98 " stroke="#2a2a2a" stroke-width="1.0" fill="none"/>
<path d="M149.75 164.80 L152.25 164.80 M150.38 163.72 L151.62 165.88 M151.62 163.72 L150.38 165.88 " stroke="#2a2a2a" stroke-width="1.0" fill="none"/>
<path d="M149.75 167.70 L152.25 167.70 M150.38 166.62 L151.62 168.78 M151.62 166.62 L150.38 168.78 " stroke="#2a2a2a" stroke-width="1.0" fill="none"/>
<line x1="158.00" y1="149.10" x2="158.00" y2="192.00" stroke="#555" stroke-width="0.9"/>
<path d="M161.15 168.10 L163.65 168.10 M161.78 167.02 L163.03 169.18 M163.03 167.02 L161.78 169.18 " stroke="#2a2a2a" stroke-width="1.0" fill="none"/>
<path d="M161.15 171.00 L163.65 171.00 M161.78 169.92 L163.03 172.08 M163.03 169.92 L161.78 172.08 " stroke="#2a2a2a" stroke-width="1.0" fill="none"/>
<path d="M161.15 173.90 L163.65 173.90 M161.78 172.82 L163.03 174.98 M163.03 172.82 L161.78 174.98 " stroke="#2a2a2a" stroke-width="1.0" fill="none"/>
<text x="195.00" y="144.50" font-size="9.0" text-anchor="start" font-weight="bold" fill="#111" stroke="#111" stroke-width="0.45">F</text>
<line x1="227.00" y1="147.20" x2="227.00" y2="248.80" stroke="#222" stroke-width="1.2"/>
<line x1="226.40" y1="248.20" x2="379.50" y2="248.20" stroke="#222" stroke-width="1.2"/>
<line x1="224.00" y1="248.20" x2="227.00" y2="248.20" stroke="#222" stroke-width="1.1"/>
<text x="222.60" y="250.50" font-size="6.5" text-anchor="end" font-weight="normal" fill="#2a2a2a" stroke="#2a2a2a" stroke-width="0.3" textLength="3.6" lengthAdjust="spacingAndGlyphs">0</text>
<line x1="224.00" y1="229.96" x2="227.00" y2="229.96" stroke="#222" stroke-width="1.1"/>
<text x="222.60" y="232.26" font-size="6.5" text-anchor="end" font-weight="normal" fill="#2a2a2a" stroke="#2a2a2a" stroke-width="0.3" textLength="7.4" lengthAdjust="spacingAndGlyphs">20</text>
<line x1="224.00" y1="211.72" x2="227.00" y2="211.72" stroke="#222" stroke-width="1.1"/>
<text x="222.60" y="214.02" font-size="6.5" text-anchor="end" font-weight="normal" fill="#2a2a2a" stroke="#2a2a2a" stroke-width="0.3" textLength="7.4" lengthAdjust="spacingAndGlyphs">40</text>
<line x1="224.00" y1="193.48" x2="227.00" y2="193.48" stroke="#222" stroke-width="1.1"/>
<text x="222.60" y="195.78" font-size="6.5" text-anchor="end" font-weight="normal" fill="#2a2a2a" stroke="#2a2a2a" stroke-width="0.3" textLength="7.4" lengthAdjust="spacingAndGlyphs">60</text>
<line x1="224.00" y1="175.24" x2="227.00" y2="175.24" stroke="#222" stroke-width="1.1"/>
<text x="222.60" y="177.54" font-size="6.5" text-anchor="end" font-weight="normal" fill="#2a2a2a" stroke="#2a2a2a" stroke-width="0.3" textLength="7.4" lengthAdjust="spacingAndGlyphs">80</text>
<line x1="224.00" y1="157.00" x2="227.00" y2="157.00" stroke="#222" stroke-width="1.1"/>
<text x="222.60" y="159.30" font-size="6.5" text-anchor="end" font-weight="normal" fill="#2a2a2a" stroke="#2a2a2a" stroke-width="0.3" textLength="11.0" lengthAdjust="spacingAndGlyphs">100</text>
<line x1="227.00" y1="248.20" x2="227.00" y2="251.20" stroke="#222" stroke-width="1.1"/>
<text x="227.00" y="258.70" font-size="6.5" text-anchor="middle" font-weight="normal" fill="#2a2a2a" stroke="#2a2a2a" stroke-width="0.3" textLength="3.6" lengthAdjust="spacingAndGlyphs">0</text>
<line x1="257.10" y1="248.20" x2="257.10" y2="251.20" stroke="#222" stroke-width="1.1"/>
<text x="257.10" y="258.70" font-size="6.5" text-anchor="middle" font-weight="normal" fill="#2a2a2a" stroke="#2a2a2a" stroke-width="0.3" textLength="3.6" lengthAdjust="spacingAndGlyphs">2</text>
<line x1="287.20" y1="248.20" x2="287.20" y2="251.20" stroke="#222" stroke-width="1.1"/>
<text x="287.20" y="258.70" font-size="6.5" text-anchor="middle" font-weight="normal" fill="#2a2a2a" stroke="#2a2a2a" stroke-width="0.3" textLength="3.6" lengthAdjust="spacingAndGlyphs">4</text>
<line x1="317.30" y1="248.20" x2="317.30" y2="251.20" stroke="#222" stroke-width="1.1"/>
<text x="317.30" y="258.70" font-size="6.5" text-anchor="middle" font-weight="normal" fill="#2a2a2a" stroke="#2a2a2a" stroke-width="0.3" textLength="3.6" lengthAdjust="spacingAndGlyphs">6</text>
<line x1="347.40" y1="248.20" x2="347.40" y2="251.20" stroke="#222" stroke-width="1.1"/>
<text x="347.40" y="258.70" font-size="6.5" text-anchor="middle" font-weight="normal" fill="#2a2a2a" stroke="#2a2a2a" stroke-width="0.3" textLength="3.6" lengthAdjust="spacingAndGlyphs">8</text>
<line x1="377.50" y1="248.20" x2="377.50" y2="251.20" stroke="#222" stroke-width="1.1"/>
<text x="377.50" y="258.70" font-size="6.5" text-anchor="middle" font-weight="normal" fill="#2a2a2a" stroke="#2a2a2a" stroke-width="0.3" textLength="7.2" lengthAdjust="spacingAndGlyphs">10</text>
<text x="207.50" y="207.00" font-size="6.6" text-anchor="middle" font-weight="normal" fill="#2a2a2a" stroke="#2a2a2a" stroke-width="0.3" textLength="76.5" lengthAdjust="spacingAndGlyphs" transform="rotate(-90 207.50 207.00)">relative proliferation (%)</text>
<text x="307.30" y="269.80" font-size="6.6" text-anchor="middle" font-weight="normal" fill="#2a2a2a" stroke="#2a2a2a" stroke-width="0.3" textLength="60.8" lengthAdjust="spacingAndGlyphs">camptothecin (nM)</text>
<path d="M227.00 157.00 L242.05 164.30 L257.10 170.86 L302.25 194.48 L377.50 221.93" fill="none" stroke="#111" stroke-width="1.1"/>
<path d="M227.00 157.00 L242.05 177.98 L257.10 183.81 L302.25 214.91 L377.50 240.36" fill="none" stroke="#1ec31e" stroke-width="1.1"/>
<path d="M227.00 157.00 L242.05 163.84 L257.10 171.41 L302.25 207.43 L377.50 235.34" fill="none" stroke="#2020ff" stroke-width="1.1"/>
<path d="M227.00 157.00 L242.05 180.62 L257.10 190.38 L302.25 217.74 L377.50 237.26" fill="none" stroke="#ff1010" stroke-width="1.1"/>
<line x1="242.05" y1="167.94" x2="242.05" y2="160.65" stroke="#111" stroke-width="1.0"/>
<line x1="239.95" y1="160.65" x2="244.15" y2="160.65" stroke="#111" stroke-width="1.1"/>
<line x1="239.95" y1="167.94" x2="244.15" y2="167.94" stroke="#111" stroke-width="1.1"/>
<line x1="257.10" y1="175.42" x2="257.10" y2="166.30" stroke="#111" stroke-width="1.0"/>
<line x1="255.00" y1="166.30" x2="259.20" y2="166.30" stroke="#111" stroke-width="1.1"/>
<line x1="255.00" y1="175.42" x2="259.20" y2="175.42" stroke="#111" stroke-width="1.1"/>
<line x1="302.25" y1="199.96" x2="302.25" y2="189.01" stroke="#111" stroke-width="1.0"/>
<line x1="300.15" y1="189.01" x2="304.35" y2="189.01" stroke="#111" stroke-width="1.1"/>
<line x1="300.15" y1="199.96" x2="304.35" y2="199.96" stroke="#111" stroke-width="1.1"/>
<line x1="377.50" y1="224.67" x2="377.50" y2="219.20" stroke="#111" stroke-width="1.0"/>
<line x1="375.40" y1="219.20" x2="379.60" y2="219.20" stroke="#111" stroke-width="1.1"/>
<line x1="375.40" y1="224.67" x2="379.60" y2="224.67" stroke="#111" stroke-width="1.1"/>
<line x1="242.05" y1="183.45" x2="242.05" y2="172.50" stroke="#1ec31e" stroke-width="1.0"/>
<line x1="239.95" y1="172.50" x2="244.15" y2="172.50" stroke="#1ec31e" stroke-width="1.1"/>
<line x1="239.95" y1="183.45" x2="244.15" y2="183.45" stroke="#1ec31e" stroke-width="1.1"/>
<line x1="257.10" y1="200.23" x2="257.10" y2="167.40" stroke="#1ec31e" stroke-width="1.0"/>
<line x1="255.00" y1="167.40" x2="259.20" y2="167.40" stroke="#1ec31e" stroke-width="1.1"/>
<line x1="255.00" y1="200.23" x2="259.20" y2="200.23" stroke="#1ec31e" stroke-width="1.1"/>
<line x1="302.25" y1="227.68" x2="302.25" y2="202.14" stroke="#1ec31e" stroke-width="1.0"/>
<line x1="300.15" y1="202.14" x2="304.35" y2="202.14" stroke="#1ec31e" stroke-width="1.1"/>
<line x1="300.15" y1="227.68" x2="304.35" y2="227.68" stroke="#1ec31e" stroke-width="1.1"/>
<line x1="377.50" y1="242.18" x2="377.50" y2="238.53" stroke="#1ec31e" stroke-width="1.0"/>
<line x1="375.40" y1="238.53" x2="379.60" y2="238.53" stroke="#1ec31e" stroke-width="1.1"/>
<line x1="375.40" y1="242.18" x2="379.60" y2="242.18" stroke="#1ec31e" stroke-width="1.1"/>
<line x1="242.05" y1="179.80" x2="242.05" y2="147.88" stroke="#2020ff" stroke-width="1.0"/>
<line x1="239.95" y1="147.88" x2="244.15" y2="147.88" stroke="#2020ff" stroke-width="1.1"/>
<line x1="239.95" y1="179.80" x2="244.15" y2="179.80" stroke="#2020ff" stroke-width="1.1"/>
<line x1="257.10" y1="181.90" x2="257.10" y2="160.92" stroke="#2020ff" stroke-width="1.0"/>
<line x1="255.00" y1="160.92" x2="259.20" y2="160.92" stroke="#2020ff" stroke-width="1.1"/>
<line x1="255.00" y1="181.90" x2="259.20" y2="181.90" stroke="#2020ff" stroke-width="1.1"/>
<line x1="302.25" y1="215.64" x2="302.25" y2="199.23" stroke="#2020ff" stroke-width="1.0"/>
<line x1="300.15" y1="199.23" x2="304.35" y2="199.23" stroke="#2020ff" stroke-width="1.1"/>
<line x1="300.15" y1="215.64" x2="304.35" y2="215.64" stroke="#2020ff" stroke-width="1.1"/>
<line x1="377.50" y1="237.16" x2="377.50" y2="233.52" stroke="#2020ff" stroke-width="1.0"/>
<line x1="375.40" y1="233.52" x2="379.60" y2="233.52" stroke="#2020ff" stroke-width="1.1"/>
<line x1="375.40" y1="237.16" x2="379.60" y2="237.16" stroke="#2020ff" stroke-width="1.1"/>
<line x1="242.05" y1="192.48" x2="242.05" y2="168.76" stroke="#ff1010" stroke-width="1.0"/>
<line x1="239.95" y1="168.76" x2="244.15" y2="168.76" stroke="#ff1010" stroke-width="1.1"/>
<line x1="239.95" y1="192.48" x2="244.15" y2="192.48" stroke="#ff1010" stroke-width="1.1"/>
<line x1="257.10" y1="197.68" x2="257.10" y2="183.08" stroke="#ff1010" stroke-width="1.0"/>
<line x1="255.00" y1="183.08" x2="259.20" y2="183.08" stroke="#ff1010" stroke-width="1.1"/>
<line x1="255.00" y1="197.68" x2="259.20" y2="197.68" stroke="#ff1010" stroke-width="1.1"/>
<line x1="302.25" y1="222.30" x2="302.25" y2="213.18" stroke="#ff1010" stroke-width="1.0"/>
<line x1="300.15" y1="213.18" x2="304.35" y2="213.18" stroke="#ff1010" stroke-width="1.1"/>
<line x1="300.15" y1="222.30" x2="304.35" y2="222.30" stroke="#ff1010" stroke-width="1.1"/>
<line x1="377.50" y1="239.08" x2="377.50" y2="235.43" stroke="#ff1010" stroke-width="1.0"/>
<line x1="375.40" y1="235.43" x2="379.60" y2="235.43" stroke="#ff1010" stroke-width="1.1"/>
<line x1="375.40" y1="239.08" x2="379.60" y2="239.08" stroke="#ff1010" stroke-width="1.1"/>
<path d="M227.00 154.40 L229.00 157.00 L227.00 159.60 L225.00 157.00 Z" fill="#111" stroke="#111" stroke-width="0.7"/>
<path d="M242.05 161.70 L244.05 164.30 L242.05 166.90 L240.05 164.30 Z" fill="#111" stroke="#111" stroke-width="0.7"/>
<path d="M257.10 168.26 L259.10 170.86 L257.10 173.46 L255.10 170.86 Z" fill="#111" stroke="#111" stroke-width="0.7"/>
<path d="M302.25 191.88 L304.25 194.48 L302.25 197.08 L300.25 194.48 Z" fill="#111" stroke="#111" stroke-width="0.7"/>
<path d="M377.50 219.33 L379.50 221.93 L377.50 224.53 L375.50 221.93 Z" fill="#111" stroke="#111" stroke-width="0.7"/>
<circle cx="227.00" cy="157.00" r="2.10" fill="none" stroke="#1ec31e" stroke-width="1.2"/>
<circle cx="242.05" cy="177.98" r="2.10" fill="none" stroke="#1ec31e" stroke-width="1.2"/>
<circle cx="257.10" cy="183.81" r="2.10" fill="none" stroke="#1ec31e" stroke-width="1.2"/>
<circle cx="302.25" cy="214.91" r="2.10" fill="none" stroke="#1ec31e" stroke-width="1.2"/>
<circle cx="377.50" cy="240.36" r="2.10" fill="none" stroke="#1ec31e" stroke-width="1.2"/>
<circle cx="227.00" cy="157.00" r="2.10" fill="none" stroke="#2020ff" stroke-width="1.2"/>
<circle cx="242.05" cy="163.84" r="2.10" fill="none" stroke="#2020ff" stroke-width="1.2"/>
<circle cx="257.10" cy="171.41" r="2.10" fill="none" stroke="#2020ff" stroke-width="1.2"/>
<circle cx="302.25" cy="207.43" r="2.10" fill="none" stroke="#2020ff" stroke-width="1.2"/>
<circle cx="377.50" cy="235.34" r="2.10" fill="none" stroke="#2020ff" stroke-width="1.2"/>
<path d="M227.00 154.40 L229.00 157.00 L227.00 159.60 L225.00 157.00 Z" fill="#ff1010" stroke="#ff1010" stroke-width="0.7"/>
<path d="M242.05 178.02 L244.05 180.62 L242.05 183.22 L240.05 180.62 Z" fill="#ff1010" stroke="#ff1010" stroke-width="0.7"/>
<path d="M257.10 187.78 L259.10 190.38 L257.10 192.98 L255.10 190.38 Z" fill="#ff1010" stroke="#ff1010" stroke-width="0.7"/>
<path d="M302.25 215.14 L304.25 217.74 L302.25 220.34 L300.25 217.74 Z" fill="#ff1010" stroke="#ff1010" stroke-width="0.7"/>
<path d="M377.50 234.66 L379.50 237.26 L377.50 239.86 L375.50 237.26 Z" fill="#ff1010" stroke="#ff1010" stroke-width="0.7"/>
<line x1="307.00" y1="154.30" x2="318.00" y2="154.30" stroke="#111" stroke-width="1.1"/>
<path d="M312.50 151.70 L314.50 154.30 L312.50 156.90 L310.50 154.30 Z" fill="#111" stroke="#111" stroke-width="0.7"/>
<text x="323.20" y="156.80" font-size="6.9" text-anchor="start" font-weight="normal" fill="#2a2a2a" stroke="#2a2a2a" stroke-width="0.3" textLength="17.2" lengthAdjust="spacingAndGlyphs">U2OS</text>
<line x1="307.00" y1="165.80" x2="318.00" y2="165.80" stroke="#1ec31e" stroke-width="1.1"/>
<circle cx="312.50" cy="165.80" r="2.10" fill="none" stroke="#1ec31e" stroke-width="1.2"/>
<text x="323.20" y="168.30" font-size="6.9" text-anchor="start" font-weight="normal" fill="#2a2a2a" stroke="#2a2a2a" stroke-width="0.3" textLength="38.0" lengthAdjust="spacingAndGlyphs">WIP1-KO #1</text>
<line x1="307.00" y1="177.20" x2="318.00" y2="177.20" stroke="#2020ff" stroke-width="1.1"/>
<circle cx="312.50" cy="177.20" r="2.10" fill="none" stroke="#2020ff" stroke-width="1.2"/>
<text x="323.20" y="179.70" font-size="6.9" text-anchor="start" font-weight="normal" fill="#2a2a2a" stroke="#2a2a2a" stroke-width="0.3" textLength="38.0" lengthAdjust="spacingAndGlyphs">WIP1-KO #2</text>
<line x1="307.00" y1="188.70" x2="318.00" y2="188.70" stroke="#ff1010" stroke-width="1.1"/>
<path d="M312.50 186.10 L314.50 188.70 L312.50 191.30 L310.50 188.70 Z" fill="#ff1010" stroke="#ff1010" stroke-width="0.7"/>
<text x="323.20" y="191.20" font-size="6.9" text-anchor="start" font-weight="normal" fill="#2a2a2a" stroke="#2a2a2a" stroke-width="0.3" textLength="40.6" lengthAdjust="spacingAndGlyphs">U2OS+WIP1i</text>
<line x1="365.60" y1="150.00" x2="365.60" y2="169.10" stroke="#555" stroke-width="0.9"/>
<path d="M368.45 157.40 L370.95 157.40 M369.07 156.32 L370.32 158.48 M370.32 156.32 L369.07 158.48 " stroke="#2a2a2a" stroke-width="1.0" fill="none"/>
<path d="M368.45 160.30 L370.95 160.30 M369.07 159.22 L370.32 161.38 M370.32 159.22 L369.07 161.38 " stroke="#2a2a2a" stroke-width="1.0" fill="none"/>
<path d="M368.45 163.20 L370.95 163.20 M369.07 162.12 L370.32 164.28 M370.32 162.12 L369.07 164.28 " stroke="#2a2a2a" stroke-width="1.0" fill="none"/>
<line x1="375.90" y1="150.00" x2="375.90" y2="180.60" stroke="#555" stroke-width="0.9"/>
<path d="M379.45 167.40 L381.95 167.40 M380.07 166.32 L381.32 168.48 M381.32 166.32 L380.07 168.48 " stroke="#2a2a2a" stroke-width="1.0" fill="none"/>
<line x1="385.40" y1="150.00" x2="385.40" y2="192.00" stroke="#555" stroke-width="0.9"/>
<path d="M388.95 169.30 L391.45 169.30 M389.57 168.22 L390.82 170.38 M390.82 168.22 L389.57 170.38 " stroke="#2a2a2a" stroke-width="1.0" fill="none"/>
<path d="M388.95 172.20 L391.45 172.20 M389.57 171.12 L390.82 173.28 M390.82 171.12 L389.57 173.28 " stroke="#2a2a2a" stroke-width="1.0" fill="none"/>
<path d="M388.95 175.10 L391.45 175.10 M389.57 174.02 L390.82 176.18 M390.82 174.02 L389.57 176.18 " stroke="#2a2a2a" stroke-width="1.0" fill="none"/>
<text x="1.60" y="281.20" font-size="9.0" text-anchor="start" font-weight="bold" fill="#111" stroke="#111" stroke-width="0.45">G</text>
<line x1="31.20" y1="278.40" x2="31.20" y2="379.80" stroke="#222" stroke-width="1.2"/>
<line x1="30.60" y1="379.20" x2="183.50" y2="379.20" stroke="#222" stroke-width="1.2"/>
<line x1="28.20" y1="379.20" x2="31.20" y2="379.20" stroke="#222" stroke-width="1.1"/>
<text x="27.20" y="381.50" font-size="6.5" text-anchor="end" font-weight="normal" fill="#2a2a2a" stroke="#2a2a2a" stroke-width="0.3" textLength="3.6" lengthAdjust="spacingAndGlyphs">0</text>
<line x1="28.20" y1="360.96" x2="31.20" y2="360.96" stroke="#222" stroke-width="1.1"/>
<text x="27.20" y="363.26" font-size="6.5" text-anchor="end" font-weight="normal" fill="#2a2a2a" stroke="#2a2a2a" stroke-width="0.3" textLength="7.4" lengthAdjust="spacingAndGlyphs">20</text>
<line x1="28.20" y1="342.72" x2="31.20" y2="342.72" stroke="#222" stroke-width="1.1"/>
<text x="27.20" y="345.02" font-size="6.5" text-anchor="end" font-weight="normal" fill="#2a2a2a" stroke="#2a2a2a" stroke-width="0.3" textLength="7.4" lengthAdjust="spacingAndGlyphs">40</text>
<line x1="28.20" y1="324.48" x2="31.20" y2="324.48" stroke="#222" stroke-width="1.1"/>
<text x="27.20" y="326.78" font-size="6.5" text-anchor="end" font-weight="normal" fill="#2a2a2a" stroke="#2a2a2a" stroke-width="0.3" textLength="7.4" lengthAdjust="spacingAndGlyphs">60</text>
<line x1="28.20" y1="306.24" x2="31.20" y2="306.24" stroke="#222" stroke-width="1.1"/>
<text x="27.20" y="308.54" font-size="6.5" text-anchor="end" font-weight="normal" fill="#2a2a2a" stroke="#2a2a2a" stroke-width="0.3" textLength="7.4" lengthAdjust="spacingAndGlyphs">80</text>
<line x1="28.20" y1="288.00" x2="31.20" y2="288.00" stroke="#222" stroke-width="1.1"/>
<text x="27.20" y="290.30" font-size="6.5" text-anchor="end" font-weight="normal" fill="#2a2a2a" stroke="#2a2a2a" stroke-width="0.3" textLength="11.0" lengthAdjust="spacingAndGlyphs">100</text>
<line x1="31.20" y1="379.20" x2="31.20" y2="382.20" stroke="#222" stroke-width="1.1"/>
<text x="31.20" y="389.70" font-size="6.5" text-anchor="middle" font-weight="normal" fill="#2a2a2a" stroke="#2a2a2a" stroke-width="0.3" textLength="3.6" lengthAdjust="spacingAndGlyphs">0</text>
<line x1="61.20" y1="379.20" x2="61.20" y2="382.20" stroke="#222" stroke-width="1.1"/>
<text x="61.20" y="389.70" font-size="6.5" text-anchor="middle" font-weight="normal" fill="#2a2a2a" stroke="#2a2a2a" stroke-width="0.3" textLength="3.6" lengthAdjust="spacingAndGlyphs">1</text>
<line x1="91.20" y1="379.20" x2="91.20" y2="382.20" stroke="#222" stroke-width="1.1"/>
<text x="91.20" y="389.70" font-size="6.5" text-anchor="middle" font-weight="normal" fill="#2a2a2a" stroke="#2a2a2a" stroke-width="0.3" textLength="3.6" lengthAdjust="spacingAndGlyphs">2</text>
<line x1="121.20" y1="379.20" x2="121.20" y2="382.20" stroke="#222" stroke-width="1.1"/>
<text x="121.20" y="389.70" font-size="6.5" text-anchor="middle" font-weight="normal" fill="#2a2a2a" stroke="#2a2a2a" stroke-width="0.3" textLength="3.6" lengthAdjust="spacingAndGlyphs">3</text>
<line x1="151.20" y1="379.20" x2="151.20" y2="382.20" stroke="#222" stroke-width="1.1"/>
<text x="151.20" y="389.70" font-size="6.5" text-anchor="middle" font-weight="normal" fill="#2a2a2a" stroke="#2a2a2a" stroke-width="0.3" textLength="3.6" lengthAdjust="spacingAndGlyphs">4</text>
<line x1="181.20" y1="379.20" x2="181.20" y2="382.20" stroke="#222" stroke-width="1.1"/>
<text x="181.20" y="389.70" font-size="6.5" text-anchor="middle" font-weight="normal" fill="#2a2a2a" stroke="#2a2a2a" stroke-width="0.3" textLength="3.6" lengthAdjust="spacingAndGlyphs">5</text>
<text x="8.80" y="333.20" font-size="6.6" text-anchor="middle" font-weight="normal" fill="#2a2a2a" stroke="#2a2a2a" stroke-width="0.3" textLength="61.5" lengthAdjust="spacingAndGlyphs" transform="rotate(-90 8.80 333.20)">% proliferating cells</text>
<text x="103.00" y="401.00" font-size="6.6" text-anchor="middle" font-weight="normal" fill="#2a2a2a" stroke="#2a2a2a" stroke-width="0.3" textLength="20.5" lengthAdjust="spacingAndGlyphs">IR (Gy)</text>
<path d="M31.20 288.00 L46.20 327.58 L61.20 351.75 L91.20 367.80 L121.20 375.55 L181.20 377.38" fill="none" stroke="#111" stroke-width="1.1"/>
<path d="M31.20 288.00 L46.20 361.87 L61.20 367.80 L91.20 373.73 L121.20 376.46 L181.20 377.38" fill="none" stroke="#111" stroke-width="1.1"/>
<path d="M31.20 288.00 L46.20 343.54 L61.20 363.70 L91.20 372.54 L121.20 376.46 L181.20 377.38" fill="none" stroke="#111" stroke-width="1.1"/>
<line x1="46.20" y1="331.87" x2="46.20" y2="323.29" stroke="#111" stroke-width="1.0"/>
<line x1="44.10" y1="323.29" x2="48.30" y2="323.29" stroke="#111" stroke-width="1.1"/>
<line x1="44.10" y1="331.87" x2="48.30" y2="331.87" stroke="#111" stroke-width="1.1"/>
<line x1="61.20" y1="357.49" x2="61.20" y2="346.00" stroke="#111" stroke-width="1.0"/>
<line x1="59.10" y1="346.00" x2="63.30" y2="346.00" stroke="#111" stroke-width="1.1"/>
<line x1="59.10" y1="357.49" x2="63.30" y2="357.49" stroke="#111" stroke-width="1.1"/>
<line x1="91.20" y1="370.99" x2="91.20" y2="364.61" stroke="#111" stroke-width="1.0"/>
<line x1="89.10" y1="364.61" x2="93.30" y2="364.61" stroke="#111" stroke-width="1.1"/>
<line x1="89.10" y1="370.99" x2="93.30" y2="370.99" stroke="#111" stroke-width="1.1"/>
<line x1="121.20" y1="376.46" x2="121.20" y2="374.64" stroke="#111" stroke-width="1.0"/>
<line x1="119.10" y1="374.64" x2="123.30" y2="374.64" stroke="#111" stroke-width="1.1"/>
<line x1="119.10" y1="376.46" x2="123.30" y2="376.46" stroke="#111" stroke-width="1.1"/>
<line x1="181.20" y1="378.29" x2="181.20" y2="376.46" stroke="#111" stroke-width="1.0"/>
<line x1="179.10" y1="376.46" x2="183.30" y2="376.46" stroke="#111" stroke-width="1.1"/>
<line x1="179.10" y1="378.29" x2="183.30" y2="378.29" stroke="#111" stroke-width="1.1"/>
<line x1="46.20" y1="363.70" x2="46.20" y2="360.05" stroke="#111" stroke-width="1.0"/>
<line x1="44.10" y1="360.05" x2="48.30" y2="360.05" stroke="#111" stroke-width="1.1"/>
<line x1="44.10" y1="363.70" x2="48.30" y2="363.70" stroke="#111" stroke-width="1.1"/>
<line x1="61.20" y1="369.62" x2="61.20" y2="365.98" stroke="#111" stroke-width="1.0"/>
<line x1="59.10" y1="365.98" x2="63.30" y2="365.98" stroke="#111" stroke-width="1.1"/>
<line x1="59.10" y1="369.62" x2="63.30" y2="369.62" stroke="#111" stroke-width="1.1"/>
<line x1="91.20" y1="374.64" x2="91.20" y2="372.82" stroke="#111" stroke-width="1.0"/>
<line x1="89.10" y1="372.82" x2="93.30" y2="372.82" stroke="#111" stroke-width="1.1"/>
<line x1="89.10" y1="374.64" x2="93.30" y2="374.64" stroke="#111" stroke-width="1.1"/>
<line x1="121.20" y1="377.38" x2="121.20" y2="375.55" stroke="#111" stroke-width="1.0"/>
<line x1="119.10" y1="375.55" x2="123.30" y2="375.55" stroke="#111" stroke-width="1.1"/>
<line x1="119.10" y1="377.38" x2="123.30" y2="377.38" stroke="#111" stroke-width="1.1"/>
<line x1="181.20" y1="378.29" x2="181.20" y2="376.46" stroke="#111" stroke-width="1.0"/>
<line x1="179.10" y1="376.46" x2="183.30" y2="376.46" stroke="#111" stroke-width="1.1"/>
<line x1="179.10" y1="378.29" x2="183.30" y2="378.29" stroke="#111" stroke-width="1.1"/>
<line x1="46.20" y1="346.28" x2="46.20" y2="340.80" stroke="#111" stroke-width="1.0"/>
<line x1="44.10" y1="340.80" x2="48.30" y2="340.80" stroke="#111" stroke-width="1.1"/>
<line x1="44.10" y1="346.28" x2="48.30" y2="346.28" stroke="#111" stroke-width="1.1"/>
<line x1="61.20" y1="366.43" x2="61.20" y2="360.96" stroke="#111" stroke-width="1.0"/>
<line x1="59.10" y1="360.96" x2="63.30" y2="360.96" stroke="#111" stroke-width="1.1"/>
<line x1="59.10" y1="366.43" x2="63.30" y2="366.43" stroke="#111" stroke-width="1.1"/>
<line x1="91.20" y1="374.37" x2="91.20" y2="370.72" stroke="#111" stroke-width="1.0"/>
<line x1="89.10" y1="370.72" x2="93.30" y2="370.72" stroke="#111" stroke-width="1.1"/>
<line x1="89.10" y1="374.37" x2="93.30" y2="374.37" stroke="#111" stroke-width="1.1"/>
<line x1="121.20" y1="377.38" x2="121.20" y2="375.55" stroke="#111" stroke-width="1.0"/>
<line x1="119.10" y1="375.55" x2="123.30" y2="375.55" stroke="#111" stroke-width="1.1"/>
<line x1="119.10" y1="377.38" x2="123.30" y2="377.38" stroke="#111" stroke-width="1.1"/>
<line x1="181.20" y1="378.29" x2="181.20" y2="376.46" stroke="#111" stroke-width="1.0"/>
<line x1="179.10" y1="376.46" x2="183.30" y2="376.46" stroke="#111" stroke-width="1.1"/>
<line x1="179.10" y1="378.29" x2="183.30" y2="378.29" stroke="#111" stroke-width="1.1"/>
<path d="M31.20 285.40 L33.20 288.00 L31.20 290.60 L29.20 288.00 Z" fill="#111" stroke="#111" stroke-width="0.7"/>
<path d="M46.20 324.98 L48.20 327.58 L46.20 330.18 L44.20 327.58 Z" fill="#111" stroke="#111" stroke-width="0.7"/>
<path d="M61.20 349.15 L63.20 351.75 L61.20 354.35 L59.20 351.75 Z" fill="#111" stroke="#111" stroke-width="0.7"/>
<path d="M91.20 365.20 L93.20 367.80 L91.20 370.40 L89.20 367.80 Z" fill="#111" stroke="#111" stroke-width="0.7"/>
<path d="M121.20 372.95 L123.20 375.55 L121.20 378.15 L119.20 375.55 Z" fill="#111" stroke="#111" stroke-width="0.7"/>
<path d="M181.20 374.78 L183.20 377.38 L181.20 379.98 L179.20 377.38 Z" fill="#111" stroke="#111" stroke-width="0.7"/>
<path d="M28.60 285.90 L33.80 285.90 L31.20 290.50 Z" fill="none" stroke="#111" stroke-width="1.15"/>
<path d="M43.60 359.77 L48.80 359.77 L46.20 364.37 Z" fill="none" stroke="#111" stroke-width="1.15"/>
<path d="M58.60 365.70 L63.80 365.70 L61.20 370.30 Z" fill="none" stroke="#111" stroke-width="1.15"/>
<path d="M88.60 371.63 L93.80 371.63 L91.20 376.23 Z" fill="none" stroke="#111" stroke-width="1.15"/>
<path d="M118.60 374.36 L123.80 374.36 L121.20 378.96 Z" fill="none" stroke="#111" stroke-width="1.15"/>
<path d="M178.60 375.28 L183.80 375.28 L181.20 379.88 Z" fill="none" stroke="#111" stroke-width="1.15"/>
<path d="M31.20 285.30 L33.50 288.00 L31.20 290.70 L28.90 288.00 Z" fill="none" stroke="#111" stroke-width="1.15"/>
<path d="M46.20 340.84 L48.50 343.54 L46.20 346.24 L43.90 343.54 Z" fill="none" stroke="#111" stroke-width="1.15"/>
<path d="M61.20 361.00 L63.50 363.70 L61.20 366.40 L58.90 363.70 Z" fill="none" stroke="#111" stroke-width="1.15"/>
<path d="M91.20 369.84 L93.50 372.54 L91.20 375.24 L88.90 372.54 Z" fill="none" stroke="#111" stroke-width="1.15"/>
<path d="M121.20 373.76 L123.50 376.46 L121.20 379.16 L118.90 376.46 Z" fill="none" stroke="#111" stroke-width="1.15"/>
<path d="M181.20 374.68 L183.50 377.38 L181.20 380.08 L178.90 377.38 Z" fill="none" stroke="#111" stroke-width="1.15"/>
<line x1="84.10" y1="287.60" x2="95.60" y2="287.60" stroke="#111" stroke-width="1.1"/>
<path d="M89.85 285.00 L91.85 287.60 L89.85 290.20 L87.85 287.60 Z" fill="#111" stroke="#111" stroke-width="0.7"/>
<text x="100.60" y="290.10" font-size="6.9" text-anchor="start" font-weight="normal" fill="#2a2a2a" stroke="#2a2a2a" stroke-width="0.3" textLength="13.0" lengthAdjust="spacingAndGlyphs">RPE</text>
<line x1="84.10" y1="299.00" x2="95.60" y2="299.00" stroke="#111" stroke-width="1.1"/>
<path d="M87.25 296.90 L92.45 296.90 L89.85 301.50 Z" fill="none" stroke="#111" stroke-width="1.15"/>
<text x="100.60" y="301.50" font-size="6.9" text-anchor="start" font-weight="normal" fill="#2a2a2a" stroke="#2a2a2a" stroke-width="0.3" textLength="28.5" lengthAdjust="spacingAndGlyphs">WIP1-KO</text>
<line x1="84.10" y1="310.40" x2="95.60" y2="310.40" stroke="#111" stroke-width="1.1"/>
<path d="M89.85 307.70 L92.15 310.40 L89.85 313.10 L87.55 310.40 Z" fill="none" stroke="#111" stroke-width="1.15"/>
<text x="100.60" y="312.90" font-size="6.9" text-anchor="start" font-weight="normal" fill="#2a2a2a" stroke="#2a2a2a" stroke-width="0.3" textLength="37.2" lengthAdjust="spacingAndGlyphs">RPE+WIP1i</text>
<line x1="137.80" y1="283.70" x2="137.80" y2="303.60" stroke="#555" stroke-width="0.9"/>
<path d="M141.15 291.50 L143.65 291.50 M141.78 290.42 L143.03 292.58 M143.03 290.42 L141.78 292.58 " stroke="#2a2a2a" stroke-width="1.0" fill="none"/>
<path d="M141.15 294.40 L143.65 294.40 M141.78 293.32 L143.03 295.48 M143.03 293.32 L141.78 295.48 " stroke="#2a2a2a" stroke-width="1.0" fill="none"/>
<path d="M141.15 297.30 L143.65 297.30 M141.78 296.22 L143.03 298.38 M143.03 296.22 L141.78 298.38 " stroke="#2a2a2a" stroke-width="1.0" fill="none"/>
<line x1="149.20" y1="283.70" x2="149.20" y2="314.30" stroke="#555" stroke-width="0.9"/>
<path d="M153.25 296.10 L155.75 296.10 M153.88 295.02 L155.12 297.18 M155.12 295.02 L153.88 297.18 " stroke="#2a2a2a" stroke-width="1.0" fill="none"/>
<path d="M153.25 299.00 L155.75 299.00 M153.88 297.92 L155.12 300.08 M155.12 297.92 L153.88 300.08 " stroke="#2a2a2a" stroke-width="1.0" fill="none"/>
<path d="M153.25 301.90 L155.75 301.90 M153.88 300.82 L155.12 302.98 M155.12 300.82 L153.88 302.98 " stroke="#2a2a2a" stroke-width="1.0" fill="none"/>
<text x="196.80" y="281.20" font-size="9.0" text-anchor="start" font-weight="bold" fill="#111" stroke="#111" stroke-width="0.45">H</text>
<line x1="227.20" y1="278.50" x2="227.20" y2="379.80" stroke="#222" stroke-width="1.2"/>
<line x1="226.60" y1="379.20" x2="379.50" y2="379.20" stroke="#222" stroke-width="1.2"/>
<line x1="224.20" y1="379.20" x2="227.20" y2="379.20" stroke="#222" stroke-width="1.1"/>
<text x="222.60" y="381.50" font-size="6.5" text-anchor="end" font-weight="normal" fill="#2a2a2a" stroke="#2a2a2a" stroke-width="0.3" textLength="3.6" lengthAdjust="spacingAndGlyphs">0</text>
<line x1="224.20" y1="360.96" x2="227.20" y2="360.96" stroke="#222" stroke-width="1.1"/>
<text x="222.60" y="363.26" font-size="6.5" text-anchor="end" font-weight="normal" fill="#2a2a2a" stroke="#2a2a2a" stroke-width="0.3" textLength="7.4" lengthAdjust="spacingAndGlyphs">20</text>
<line x1="224.20" y1="342.72" x2="227.20" y2="342.72" stroke="#222" stroke-width="1.1"/>
<text x="222.60" y="345.02" font-size="6.5" text-anchor="end" font-weight="normal" fill="#2a2a2a" stroke="#2a2a2a" stroke-width="0.3" textLength="7.4" lengthAdjust="spacingAndGlyphs">40</text>
<line x1="224.20" y1="324.48" x2="227.20" y2="324.48" stroke="#222" stroke-width="1.1"/>
<text x="222.60" y="326.78" font-size="6.5" text-anchor="end" font-weight="normal" fill="#2a2a2a" stroke="#2a2a2a" stroke-width="0.3" textLength="7.4" lengthAdjust="spacingAndGlyphs">60</text>
<line x1="224.20" y1="306.24" x2="227.20" y2="306.24" stroke="#222" stroke-width="1.1"/>
<text x="222.60" y="308.54" font-size="6.5" text-anchor="end" font-weight="normal" fill="#2a2a2a" stroke="#2a2a2a" stroke-width="0.3" textLength="7.4" lengthAdjust="spacingAndGlyphs">80</text>
<line x1="224.20" y1="288.00" x2="227.20" y2="288.00" stroke="#222" stroke-width="1.1"/>
<text x="222.60" y="290.30" font-size="6.5" text-anchor="end" font-weight="normal" fill="#2a2a2a" stroke="#2a2a2a" stroke-width="0.3" textLength="11.0" lengthAdjust="spacingAndGlyphs">100</text>
<line x1="227.20" y1="379.20" x2="227.20" y2="382.20" stroke="#222" stroke-width="1.1"/>
<text x="227.20" y="389.70" font-size="6.5" text-anchor="middle" font-weight="normal" fill="#2a2a2a" stroke="#2a2a2a" stroke-width="0.3" textLength="3.6" lengthAdjust="spacingAndGlyphs">0</text>
<line x1="257.32" y1="379.20" x2="257.32" y2="382.20" stroke="#222" stroke-width="1.1"/>
<text x="257.32" y="389.70" font-size="6.5" text-anchor="middle" font-weight="normal" fill="#2a2a2a" stroke="#2a2a2a" stroke-width="0.3" textLength="3.6" lengthAdjust="spacingAndGlyphs">2</text>
<line x1="287.44" y1="379.20" x2="287.44" y2="382.20" stroke="#222" stroke-width="1.1"/>
<text x="287.44" y="389.70" font-size="6.5" text-anchor="middle" font-weight="normal" fill="#2a2a2a" stroke="#2a2a2a" stroke-width="0.3" textLength="3.6" lengthAdjust="spacingAndGlyphs">4</text>
<line x1="317.56" y1="379.20" x2="317.56" y2="382.20" stroke="#222" stroke-width="1.1"/>
<text x="317.56" y="389.70" font-size="6.5" text-anchor="middle" font-weight="normal" fill="#2a2a2a" stroke="#2a2a2a" stroke-width="0.3" textLength="3.6" lengthAdjust="spacingAndGlyphs">6</text>
<line x1="347.68" y1="379.20" x2="347.68" y2="382.20" stroke="#222" stroke-width="1.1"/>
<text x="347.68" y="389.70" font-size="6.5" text-anchor="middle" font-weight="normal" fill="#2a2a2a" stroke="#2a2a2a" stroke-width="0.3" textLength="3.6" lengthAdjust="spacingAndGlyphs">8</text>
<line x1="377.80" y1="379.20" x2="377.80" y2="382.20" stroke="#222" stroke-width="1.1"/>
<text x="377.80" y="389.70" font-size="6.5" text-anchor="middle" font-weight="normal" fill="#2a2a2a" stroke="#2a2a2a" stroke-width="0.3" textLength="7.2" lengthAdjust="spacingAndGlyphs">10</text>
<text x="205.10" y="333.40" font-size="6.6" text-anchor="middle" font-weight="normal" fill="#2a2a2a" stroke="#2a2a2a" stroke-width="0.3" textLength="61.2" lengthAdjust="spacingAndGlyphs" transform="rotate(-90 205.10 333.40)">% proliferating cells</text>
<text x="308.40" y="400.50" font-size="6.6" text-anchor="middle" font-weight="normal" fill="#2a2a2a" stroke="#2a2a2a" stroke-width="0.3" textLength="61.0" lengthAdjust="spacingAndGlyphs">camptothecin (nM)</text>
<path d="M227.20 288.00 L242.26 300.40 L257.32 329.31 L302.50 364.61 L377.80 376.46" fill="none" stroke="#111" stroke-width="1.1"/>
<path d="M227.20 288.00 L242.26 326.30 L257.32 353.66 L302.50 373.73 L377.80 376.46" fill="none" stroke="#111" stroke-width="1.1"/>
<path d="M227.20 288.00 L242.26 322.66 L257.32 350.93 L302.50 372.82 L377.80 376.46" fill="none" stroke="#111" stroke-width="1.1"/>
<line x1="242.26" y1="309.52" x2="242.26" y2="291.28" stroke="#111" stroke-width="1.0"/>
<line x1="240.16" y1="291.28" x2="244.36" y2="291.28" stroke="#111" stroke-width="1.1"/>
<line x1="240.16" y1="309.52" x2="244.36" y2="309.52" stroke="#111" stroke-width="1.1"/>
<line x1="257.32" y1="337.07" x2="257.32" y2="321.56" stroke="#111" stroke-width="1.0"/>
<line x1="255.22" y1="321.56" x2="259.42" y2="321.56" stroke="#111" stroke-width="1.1"/>
<line x1="255.22" y1="337.07" x2="259.42" y2="337.07" stroke="#111" stroke-width="1.1"/>
<line x1="302.50" y1="368.26" x2="302.50" y2="360.96" stroke="#111" stroke-width="1.0"/>
<line x1="300.40" y1="360.96" x2="304.60" y2="360.96" stroke="#111" stroke-width="1.1"/>
<line x1="300.40" y1="368.26" x2="304.60" y2="368.26" stroke="#111" stroke-width="1.1"/>
<line x1="377.80" y1="377.38" x2="377.80" y2="375.55" stroke="#111" stroke-width="1.0"/>
<line x1="375.70" y1="375.55" x2="379.90" y2="375.55" stroke="#111" stroke-width="1.1"/>
<line x1="375.70" y1="377.38" x2="379.90" y2="377.38" stroke="#111" stroke-width="1.1"/>
<line x1="242.26" y1="340.90" x2="242.26" y2="311.71" stroke="#111" stroke-width="1.0"/>
<line x1="240.16" y1="311.71" x2="244.36" y2="311.71" stroke="#111" stroke-width="1.1"/>
<line x1="240.16" y1="340.90" x2="244.36" y2="340.90" stroke="#111" stroke-width="1.1"/>
<line x1="257.32" y1="363.24" x2="257.32" y2="344.09" stroke="#111" stroke-width="1.0"/>
<line x1="255.22" y1="344.09" x2="259.42" y2="344.09" stroke="#111" stroke-width="1.1"/>
<line x1="255.22" y1="363.24" x2="259.42" y2="363.24" stroke="#111" stroke-width="1.1"/>
<line x1="302.50" y1="375.55" x2="302.50" y2="371.90" stroke="#111" stroke-width="1.0"/>
<line x1="300.40" y1="371.90" x2="304.60" y2="371.90" stroke="#111" stroke-width="1.1"/>
<line x1="300.40" y1="375.55" x2="304.60" y2="375.55" stroke="#111" stroke-width="1.1"/>
<line x1="377.80" y1="377.38" x2="377.80" y2="375.55" stroke="#111" stroke-width="1.0"/>
<line x1="375.70" y1="375.55" x2="379.90" y2="375.55" stroke="#111" stroke-width="1.1"/>
<line x1="375.70" y1="377.38" x2="379.90" y2="377.38" stroke="#111" stroke-width="1.1"/>
<line x1="242.26" y1="336.34" x2="242.26" y2="308.98" stroke="#111" stroke-width="1.0"/>
<line x1="240.16" y1="308.98" x2="244.36" y2="308.98" stroke="#111" stroke-width="1.1"/>
<line x1="240.16" y1="336.34" x2="244.36" y2="336.34" stroke="#111" stroke-width="1.1"/>
<line x1="257.32" y1="356.40" x2="257.32" y2="345.46" stroke="#111" stroke-width="1.0"/>
<line x1="255.22" y1="345.46" x2="259.42" y2="345.46" stroke="#111" stroke-width="1.1"/>
<line x1="255.22" y1="356.40" x2="259.42" y2="356.40" stroke="#111" stroke-width="1.1"/>
<line x1="302.50" y1="374.64" x2="302.50" y2="370.99" stroke="#111" stroke-width="1.0"/>
<line x1="300.40" y1="370.99" x2="304.60" y2="370.99" stroke="#111" stroke-width="1.1"/>
<line x1="300.40" y1="374.64" x2="304.60" y2="374.64" stroke="#111" stroke-width="1.1"/>
<line x1="377.80" y1="377.38" x2="377.80" y2="375.55" stroke="#111" stroke-width="1.0"/>
<line x1="375.70" y1="375.55" x2="379.90" y2="375.55" stroke="#111" stroke-width="1.1"/>
<line x1="375.70" y1="377.38" x2="379.90" y2="377.38" stroke="#111" stroke-width="1.1"/>
<path d="M227.20 285.40 L229.20 288.00 L227.20 290.60 L225.20 288.00 Z" fill="#111" stroke="#111" stroke-width="0.7"/>
<path d="M242.26 297.80 L244.26 300.40 L242.26 303.00 L240.26 300.40 Z" fill="#111" stroke="#111" stroke-width="0.7"/>
<path d="M257.32 326.71 L259.32 329.31 L257.32 331.91 L255.32 329.31 Z" fill="#111" stroke="#111" stroke-width="0.7"/>
<path d="M302.50 362.01 L304.50 364.61 L302.50 367.21 L300.50 364.61 Z" fill="#111" stroke="#111" stroke-width="0.7"/>
<path d="M377.80 373.86 L379.80 376.46 L377.80 379.06 L375.80 376.46 Z" fill="#111" stroke="#111" stroke-width="0.7"/>
<path d="M224.60 285.90 L229.80 285.90 L227.20 290.50 Z" fill="none" stroke="#111" stroke-width="1.15"/>
<path d="M239.66 324.20 L244.86 324.20 L242.26 328.80 Z" fill="none" stroke="#111" stroke-width="1.15"/>
<path d="M254.72 351.56 L259.92 351.56 L257.32 356.16 Z" fill="none" stroke="#111" stroke-width="1.15"/>
<path d="M299.90 371.63 L305.10 371.63 L302.50 376.23 Z" fill="none" stroke="#111" stroke-width="1.15"/>
<path d="M375.20 374.36 L380.40 374.36 L377.80 378.96 Z" fill="none" stroke="#111" stroke-width="1.15"/>
<path d="M227.20 285.30 L229.50 288.00 L227.20 290.70 L224.90 288.00 Z" fill="none" stroke="#111" stroke-width="1.15"/>
<path d="M242.26 319.96 L244.56 322.66 L242.26 325.36 L239.96 322.66 Z" fill="none" stroke="#111" stroke-width="1.15"/>
<path d="M257.32 348.23 L259.62 350.93 L257.32 353.63 L255.02 350.93 Z" fill="none" stroke="#111" stroke-width="1.15"/>
<path d="M302.50 370.12 L304.80 372.82 L302.50 375.52 L300.20 372.82 Z" fill="none" stroke="#111" stroke-width="1.15"/>
<path d="M377.80 373.76 L380.10 376.46 L377.80 379.16 L375.50 376.46 Z" fill="none" stroke="#111" stroke-width="1.15"/>
<line x1="288.70" y1="285.30" x2="299.70" y2="285.30" stroke="#111" stroke-width="1.1"/>
<path d="M294.20 282.70 L296.20 285.30 L294.20 287.90 L292.20 285.30 Z" fill="#111" stroke="#111" stroke-width="0.7"/>
<text x="305.40" y="287.80" font-size="6.9" text-anchor="start" font-weight="normal" fill="#2a2a2a" stroke="#2a2a2a" stroke-width="0.3" textLength="13.0" lengthAdjust="spacingAndGlyphs">RPE</text>
<line x1="288.70" y1="297.00" x2="299.70" y2="297.00" stroke="#111" stroke-width="1.1"/>
<path d="M291.60 294.90 L296.80 294.90 L294.20 299.50 Z" fill="none" stroke="#111" stroke-width="1.15"/>
<text x="305.40" y="299.50" font-size="6.9" text-anchor="start" font-weight="normal" fill="#2a2a2a" stroke="#2a2a2a" stroke-width="0.3" textLength="28.5" lengthAdjust="spacingAndGlyphs">WIP1-KO</text>
<line x1="288.70" y1="308.80" x2="299.70" y2="308.80" stroke="#111" stroke-width="1.1"/>
<path d="M294.20 306.10 L296.50 308.80 L294.20 311.50 L291.90 308.80 Z" fill="none" stroke="#111" stroke-width="1.15"/>
<text x="305.40" y="311.30" font-size="6.9" text-anchor="start" font-weight="normal" fill="#2a2a2a" stroke="#2a2a2a" stroke-width="0.3" textLength="34.3" lengthAdjust="spacingAndGlyphs">RPE+WIP1i</text>
<line x1="342.60" y1="281.40" x2="342.60" y2="302.00" stroke="#555" stroke-width="0.9"/>
<path d="M345.25 288.10 L347.75 288.10 M345.88 287.02 L347.12 289.18 M347.12 287.02 L345.88 289.18 " stroke="#2a2a2a" stroke-width="1.0" fill="none"/>
<path d="M345.25 291.00 L347.75 291.00 M345.88 289.92 L347.12 292.08 M347.12 289.92 L345.88 292.08 " stroke="#2a2a2a" stroke-width="1.0" fill="none"/>
<path d="M345.25 293.90 L347.75 293.90 M345.88 292.82 L347.12 294.98 M347.12 292.82 L345.88 294.98 " stroke="#2a2a2a" stroke-width="1.0" fill="none"/>
<line x1="353.40" y1="281.40" x2="353.40" y2="312.70" stroke="#555" stroke-width="0.9"/>
<path d="M356.75 293.80 L359.25 293.80 M357.38 292.72 L358.62 294.88 M358.62 292.72 L357.38 294.88 " stroke="#2a2a2a" stroke-width="1.0" fill="none"/>
<path d="M356.75 296.70 L359.25 296.70 M357.38 295.62 L358.62 297.78 M358.62 295.62 L357.38 297.78 " stroke="#2a2a2a" stroke-width="1.0" fill="none"/>
<path d="M356.75 299.60 L359.25 299.60 M357.38 298.52 L358.62 300.68 M358.62 298.52 L357.38 300.68 " stroke="#2a2a2a" stroke-width="1.0" fill="none"/>
<text x="1.40" y="418.20" font-size="9.0" text-anchor="start" font-weight="bold" fill="#111" stroke="#111" stroke-width="0.45">I</text>
<line x1="36.40" y1="425.30" x2="36.40" y2="509.90" stroke="#222" stroke-width="1.2"/>
<line x1="35.80" y1="509.30" x2="99.30" y2="509.30" stroke="#222" stroke-width="1.2"/>
<line x1="33.40" y1="509.30" x2="36.40" y2="509.30" stroke="#222" stroke-width="1.1"/>
<text x="30.50" y="511.70" font-size="6.8" text-anchor="end" font-weight="normal" fill="#2a2a2a" stroke="#2a2a2a" stroke-width="0.3" textLength="3.6" lengthAdjust="spacingAndGlyphs">0</text>
<line x1="33.40" y1="488.30" x2="36.40" y2="488.30" stroke="#222" stroke-width="1.1"/>
<text x="30.50" y="490.70" font-size="6.8" text-anchor="end" font-weight="normal" fill="#2a2a2a" stroke="#2a2a2a" stroke-width="0.3" textLength="7.6" lengthAdjust="spacingAndGlyphs">20</text>
<line x1="33.40" y1="467.30" x2="36.40" y2="467.30" stroke="#222" stroke-width="1.1"/>
<text x="30.50" y="469.70" font-size="6.8" text-anchor="end" font-weight="normal" fill="#2a2a2a" stroke="#2a2a2a" stroke-width="0.3" textLength="7.6" lengthAdjust="spacingAndGlyphs">40</text>
<line x1="33.40" y1="446.30" x2="36.40" y2="446.30" stroke="#222" stroke-width="1.1"/>
<text x="30.50" y="448.70" font-size="6.8" text-anchor="end" font-weight="normal" fill="#2a2a2a" stroke="#2a2a2a" stroke-width="0.3" textLength="7.6" lengthAdjust="spacingAndGlyphs">60</text>
<line x1="33.40" y1="425.30" x2="36.40" y2="425.30" stroke="#222" stroke-width="1.1"/>
<text x="30.50" y="427.70" font-size="6.8" text-anchor="end" font-weight="normal" fill="#2a2a2a" stroke="#2a2a2a" stroke-width="0.3" textLength="7.6" lengthAdjust="spacingAndGlyphs">80</text>
<text x="19.30" y="465.00" font-size="6.6" text-anchor="middle" font-weight="normal" fill="#2a2a2a" stroke="#2a2a2a" stroke-width="0.3" textLength="37.6" lengthAdjust="spacingAndGlyphs" transform="rotate(-90 19.30 465.00)">% dead cells</text>
<rect x="40.85" y="499.69" width="5.10" height="9.56" fill="#fff" stroke="#222" stroke-width="1.1"/>
<line x1="43.40" y1="499.64" x2="43.40" y2="498.49" stroke="#222" stroke-width="1.0"/>
<line x1="41.20" y1="498.49" x2="45.60" y2="498.49" stroke="#222" stroke-width="1.1"/>
<rect x="49.75" y="491.92" width="4.90" height="17.33" fill="#fbb46e" stroke="#222" stroke-width="1.1"/>
<line x1="52.20" y1="491.87" x2="52.20" y2="490.19" stroke="#222" stroke-width="1.0"/>
<line x1="50.00" y1="490.19" x2="54.40" y2="490.19" stroke="#222" stroke-width="1.1"/>
<rect x="58.65" y="482.26" width="4.70" height="26.99" fill="#c800dc" stroke="#222" stroke-width="1.1"/>
<line x1="61.00" y1="482.21" x2="61.00" y2="478.64" stroke="#222" stroke-width="1.0"/>
<line x1="58.80" y1="478.64" x2="63.20" y2="478.64" stroke="#222" stroke-width="1.1"/>
<rect x="72.85" y="497.80" width="4.90" height="11.45" fill="#fff" stroke="#222" stroke-width="1.1"/>
<line x1="75.30" y1="497.75" x2="75.30" y2="497.23" stroke="#222" stroke-width="1.0"/>
<line x1="73.10" y1="497.23" x2="77.50" y2="497.23" stroke="#222" stroke-width="1.1"/>
<rect x="81.75" y="463.57" width="5.10" height="45.68" fill="#fbb46e" stroke="#222" stroke-width="1.1"/>
<line x1="84.30" y1="463.52" x2="84.30" y2="451.97" stroke="#222" stroke-width="1.0"/>
<line x1="82.10" y1="451.97" x2="86.50" y2="451.97" stroke="#222" stroke-width="1.1"/>
<rect x="90.45" y="447.30" width="5.10" height="61.96" fill="#c800dc" stroke="#222" stroke-width="1.1"/>
<line x1="93.00" y1="447.25" x2="93.00" y2="441.26" stroke="#222" stroke-width="1.0"/>
<line x1="90.80" y1="441.26" x2="95.20" y2="441.26" stroke="#222" stroke-width="1.1"/>
<line x1="52.20" y1="509.30" x2="52.20" y2="511.70" stroke="#222" stroke-width="1.1"/>
<line x1="84.20" y1="509.30" x2="84.20" y2="511.70" stroke="#222" stroke-width="1.1"/>
<line x1="49.50" y1="448.10" x2="86.80" y2="448.10" stroke="#666" stroke-width="1.0"/>
<path d="M68.20 443.35 L68.20 445.85 M69.28 443.98 L67.12 445.23 M69.28 445.23 L67.12 443.98 " stroke="#2a2a2a" stroke-width="1.0" fill="none"/>
<line x1="58.40" y1="438.70" x2="96.10" y2="438.70" stroke="#666" stroke-width="1.0"/>
<path d="M77.10 433.95 L77.10 436.45 M78.18 434.57 L76.02 435.82 M78.18 435.82 L76.02 434.57 " stroke="#2a2a2a" stroke-width="1.0" fill="none"/>
<rect x="106.45" y="431.75" width="7.70" height="3.60" fill="#fff" stroke="#222" stroke-width="1.1"/>
<rect x="106.45" y="441.35" width="7.70" height="3.30" fill="#fbb46e" stroke="#222" stroke-width="1.1"/>
<rect x="106.45" y="451.45" width="7.70" height="3.20" fill="#c800dc" stroke="#222" stroke-width="1.1"/>
<text x="118.50" y="435.30" font-size="6.9" text-anchor="start" font-weight="normal" fill="#2a2a2a" stroke="#2a2a2a" stroke-width="0.3" textLength="8.0" lengthAdjust="spacingAndGlyphs">NT</text>
<text x="118.50" y="445.00" font-size="6.9" text-anchor="start" font-weight="normal" fill="#2a2a2a" stroke="#2a2a2a" stroke-width="0.3" textLength="9.8" lengthAdjust="spacingAndGlyphs">cpt</text>
<text x="118.50" y="455.00" font-size="6.9" text-anchor="start" font-weight="normal" fill="#2a2a2a" stroke="#2a2a2a" stroke-width="0.3" textLength="6.4" lengthAdjust="spacingAndGlyphs">IR</text>
<text x="55.40" y="521.40" font-size="7.2" text-anchor="end" font-weight="normal" fill="#2a2a2a" stroke="#2a2a2a" stroke-width="0.3" textLength="16.8" lengthAdjust="spacingAndGlyphs" transform="rotate(-45 55.40 521.40)">U2OS</text>
<text x="91.50" y="521.40" font-size="7.2" text-anchor="end" font-weight="normal" fill="#2a2a2a" stroke="#2a2a2a" stroke-width="0.3" textLength="39.0" lengthAdjust="spacingAndGlyphs" transform="rotate(-45 91.50 521.40)">U2OS+WIP1i</text>
</svg></body></html>
